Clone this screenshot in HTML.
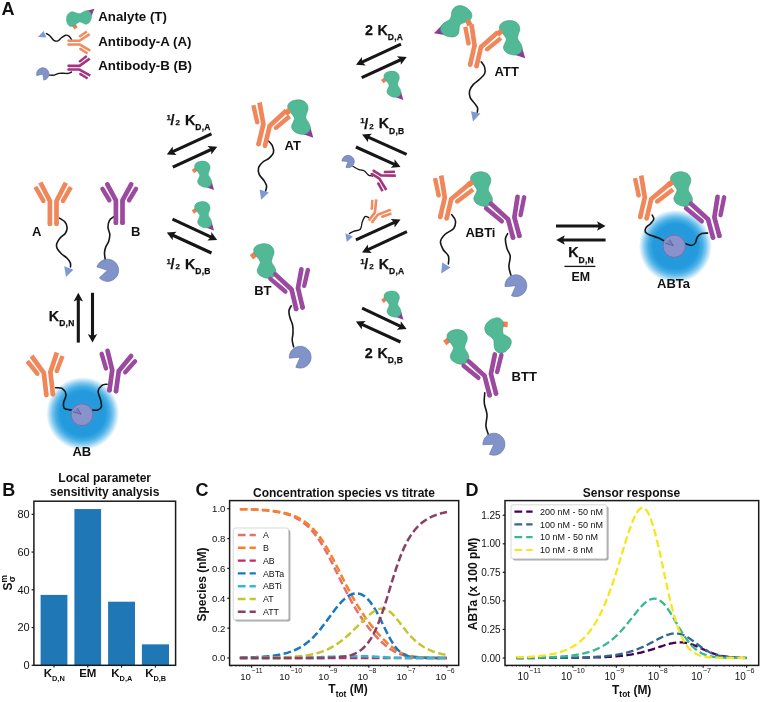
<!DOCTYPE html>
<html><head><meta charset="utf-8"><title>Figure</title>
<style>
html,body{margin:0;padding:0;background:#fff;}
body{width:760px;height:702px;overflow:hidden;font-family:"Liberation Sans",sans-serif;}
svg{display:block;will-change:transform;}
svg text{font-family:"Liberation Sans",sans-serif;fill:#111;}
</style></head><body>
<svg width="760" height="702" viewBox="0 0 760 702">
<defs>
<radialGradient id="glow" cx="50%" cy="50%" r="50%">
<stop offset="0" stop-color="#2c9ede"/>
<stop offset="0.45" stop-color="#2499dc"/>
<stop offset="0.62" stop-color="#249bde"/>
<stop offset="0.74" stop-color="#45ade5"/>
<stop offset="0.84" stop-color="#80c8ee"/>
<stop offset="0.93" stop-color="#c6e7f8"/>
<stop offset="1" stop-color="#ffffff"/>
</radialGradient>
<filter id="sh" x="-10%" y="-10%" width="130%" height="130%"><feGaussianBlur stdDeviation="0.5"/></filter>
</defs>
<rect width="760" height="702" fill="#fff"/>
<g id="chartB">
<rect x="40.6" y="594.91" width="26.80" height="70.39" fill="#2077b6"/>
<rect x="74.4" y="509.06" width="26.70" height="156.24" fill="#2077b6"/>
<rect x="108.1" y="601.71" width="26.90" height="63.59" fill="#2077b6"/>
<rect x="141.9" y="644.35" width="27.10" height="20.95" fill="#2077b6"/>
<rect x="33.9" y="501.2" width="141.70" height="164.10" fill="none" stroke="#1a1a1a" stroke-width="1.5"/>
<line x1="31.599999999999998" x2="33.9" y1="665.30" y2="665.30" stroke="#1a1a1a" stroke-width="1.2"/>
<text x="29.7" y="669.1" font-size="11" text-anchor="end" >0</text>
<line x1="31.599999999999998" x2="33.9" y1="627.56" y2="627.56" stroke="#1a1a1a" stroke-width="1.2"/>
<text x="29.7" y="631.36" font-size="11" text-anchor="end" >20</text>
<line x1="31.599999999999998" x2="33.9" y1="589.82" y2="589.82" stroke="#1a1a1a" stroke-width="1.2"/>
<text x="29.7" y="593.62" font-size="11" text-anchor="end" >40</text>
<line x1="31.599999999999998" x2="33.9" y1="552.08" y2="552.08" stroke="#1a1a1a" stroke-width="1.2"/>
<text x="29.7" y="555.88" font-size="11" text-anchor="end" >60</text>
<line x1="31.599999999999998" x2="33.9" y1="514.34" y2="514.34" stroke="#1a1a1a" stroke-width="1.2"/>
<text x="29.7" y="518.14" font-size="11" text-anchor="end" >80</text>
<line x1="54.00" x2="54.00" y1="665.3" y2="667.5999999999999" stroke="#1a1a1a" stroke-width="1.2"/>
<text x="43.70" y="677.2" font-size="11.5" font-weight="bold">K<tspan font-size="7.4" dy="3.4">D,N</tspan></text>
<line x1="87.75" x2="87.75" y1="665.3" y2="667.5999999999999" stroke="#1a1a1a" stroke-width="1.2"/>
<text x="87.75" y="677.2" font-size="11.5" font-weight="bold" text-anchor="middle" >EM</text>
<line x1="121.55" x2="121.55" y1="665.3" y2="667.5999999999999" stroke="#1a1a1a" stroke-width="1.2"/>
<text x="111.25" y="677.2" font-size="11.5" font-weight="bold">K<tspan font-size="7.4" dy="3.4">D,A</tspan></text>
<line x1="155.45" x2="155.45" y1="665.3" y2="667.5999999999999" stroke="#1a1a1a" stroke-width="1.2"/>
<text x="145.15" y="677.2" font-size="11.5" font-weight="bold">K<tspan font-size="7.4" dy="3.4">D,B</tspan></text>
<text x="104.7" y="482.3" font-size="12" font-weight="bold" text-anchor="middle" >Local parameter</text>
<text x="104.7" y="496.0" font-size="12" font-weight="bold" text-anchor="middle" >sensitivity analysis</text>
<g transform="translate(11.6,590.5) rotate(-90)"><text x="0" y="0" font-size="12" font-weight="bold">S<tspan font-size="8.4" dy="-4.4">m</tspan><tspan font-size="9" dx="-7.2" dy="7.6">σ</tspan></text></g>
<text x="2.2" y="495.9" font-size="18" font-weight="bold" text-anchor="start" >B</text>
</g>
<g id="chartC">
<rect x="229.6" y="500.6" width="229.10" height="164.80" fill="#fff" stroke="none"/>
<path d="M239.84,509.18 L240.64,509.18 L241.44,509.18 L242.24,509.18 L243.04,509.19 L243.84,509.21 L244.63,509.23 L245.43,509.25 L246.23,509.28 L247.03,509.30 L247.83,509.33 L248.63,509.36 L249.43,509.38 L250.23,509.41 L251.03,509.45 L251.83,509.48 L252.63,509.51 L253.43,509.55 L254.23,509.59 L255.03,509.63 L255.83,509.67 L256.63,509.71 L257.43,509.76 L258.23,509.81 L259.03,509.86 L259.83,509.91 L260.63,509.96 L261.43,510.02 L262.23,510.08 L263.03,510.15 L263.83,510.21 L264.63,510.28 L265.43,510.36 L266.23,510.43 L267.03,510.51 L267.83,510.60 L268.63,510.68 L269.43,510.77 L270.23,510.87 L271.03,510.97 L271.83,511.08 L272.63,511.19 L273.43,511.30 L274.23,511.42 L275.03,511.55 L275.83,511.68 L276.63,511.82 L277.43,511.97 L278.23,512.12 L279.03,512.28 L279.83,512.45 L280.63,512.62 L281.43,512.80 L282.23,512.99 L283.03,513.19 L283.83,513.40 L284.63,513.62 L285.43,513.85 L286.23,514.09 L287.03,514.34 L287.83,514.60 L288.63,514.87 L289.43,515.15 L290.23,515.45 L291.03,515.76 L291.83,516.09 L292.63,516.43 L293.43,516.78 L294.23,517.15 L295.03,517.54 L295.83,517.94 L296.63,518.36 L297.43,518.80 L298.23,519.25 L299.03,519.73 L299.83,520.22 L300.63,520.74 L301.43,521.28 L302.22,521.84 L303.02,522.42 L303.82,523.03 L304.62,523.66 L305.42,524.32 L306.22,525.00 L307.02,525.70 L307.82,526.44 L308.62,527.20 L309.42,527.99 L310.22,528.81 L311.02,529.66 L311.82,530.54 L312.62,531.45 L313.42,532.39 L314.22,533.36 L315.02,534.36 L315.82,535.40 L316.62,536.47 L317.42,537.56 L318.22,538.70 L319.02,539.86 L319.82,541.06 L320.62,542.28 L321.42,543.54 L322.22,544.83 L323.02,546.15 L323.82,547.50 L324.62,548.88 L325.42,550.29 L326.22,551.72 L327.02,553.18 L327.82,554.67 L328.62,556.17 L329.42,557.70 L330.22,559.25 L331.02,560.81 L331.82,562.39 L332.62,563.99 L333.42,565.60 L334.22,567.22 L335.02,568.85 L335.82,570.48 L336.62,572.12 L337.42,573.77 L338.22,575.41 L339.02,577.05 L339.82,578.70 L340.62,580.33 L341.42,581.96 L342.22,583.59 L343.02,585.20 L343.82,586.80 L344.62,588.40 L345.42,589.98 L346.22,591.54 L347.02,593.09 L347.82,594.63 L348.62,596.14 L349.42,597.64 L350.22,599.13 L351.02,600.59 L351.82,602.03 L352.62,603.46 L353.42,604.86 L354.22,606.25 L355.02,607.61 L355.82,608.95 L356.62,610.27 L357.42,611.57 L358.22,612.86 L359.02,614.12 L359.82,615.35 L360.61,616.57 L361.41,617.77 L362.21,618.95 L363.01,620.11 L363.81,621.25 L364.61,622.37 L365.41,623.47 L366.21,624.55 L367.01,625.61 L367.81,626.65 L368.61,627.68 L369.41,628.69 L370.21,629.68 L371.01,630.65 L371.81,631.60 L372.61,632.54 L373.41,633.46 L374.21,634.37 L375.01,635.26 L375.81,636.13 L376.61,636.98 L377.41,637.82 L378.21,638.64 L379.01,639.45 L379.81,640.24 L380.61,641.01 L381.41,641.77 L382.21,642.51 L383.01,643.23 L383.81,643.94 L384.61,644.63 L385.41,645.30 L386.21,645.95 L387.01,646.58 L387.81,647.20 L388.61,647.80 L389.41,648.37 L390.21,648.93 L391.01,649.47 L391.81,649.98 L392.61,650.48 L393.41,650.96 L394.21,651.41 L395.01,651.85 L395.81,652.26 L396.61,652.65 L397.41,653.02 L398.21,653.38 L399.01,653.71 L399.81,654.02 L400.61,654.32 L401.41,654.59 L402.21,654.85 L403.01,655.09 L403.81,655.32 L404.61,655.53 L405.41,655.72 L406.21,655.90 L407.01,656.07 L407.81,656.23 L408.61,656.37 L409.41,656.51 L410.21,656.63 L411.01,656.74 L411.81,656.85 L412.61,656.95 L413.41,657.03 L414.21,657.12 L415.01,657.19 L415.81,657.26 L416.61,657.32 L417.41,657.38 L418.20,657.43 L419.00,657.48 L419.80,657.53 L420.60,657.57 L421.40,657.61 L422.20,657.64 L423.00,657.67 L423.80,657.70 L424.60,657.73 L425.40,657.75 L426.20,657.77 L427.00,657.79 L427.80,657.81 L428.60,657.83 L429.40,657.84 L430.20,657.86 L431.00,657.87 L431.80,657.88 L432.60,657.89 L433.40,657.90 L434.20,657.91 L435.00,657.92 L435.80,657.92 L436.60,657.93 L437.40,657.94 L438.20,657.94 L439.00,657.95 L439.80,657.95 L440.60,657.96 L441.40,657.96 L442.20,657.96 L443.00,657.97 L443.80,657.97 L444.60,657.97 L445.40,657.98 L446.20,657.98 L447.00,657.98" fill="none" stroke="#e6706c" stroke-width="2.5" stroke-dasharray="7.6 3.4"/>
<path d="M239.84,509.17 L240.64,509.17 L241.44,509.17 L242.24,509.17 L243.04,509.17 L243.84,509.17 L244.63,509.17 L245.43,509.18 L246.23,509.20 L247.03,509.22 L247.83,509.24 L248.63,509.27 L249.43,509.29 L250.23,509.32 L251.03,509.34 L251.83,509.37 L252.63,509.40 L253.43,509.43 L254.23,509.46 L255.03,509.50 L255.83,509.53 L256.63,509.57 L257.43,509.61 L258.23,509.65 L259.03,509.69 L259.83,509.74 L260.63,509.79 L261.43,509.83 L262.23,509.89 L263.03,509.94 L263.83,510.00 L264.63,510.06 L265.43,510.12 L266.23,510.18 L267.03,510.25 L267.83,510.32 L268.63,510.40 L269.43,510.48 L270.23,510.56 L271.03,510.64 L271.83,510.73 L272.63,510.83 L273.43,510.93 L274.23,511.03 L275.03,511.14 L275.83,511.25 L276.63,511.37 L277.43,511.49 L278.23,511.62 L279.03,511.76 L279.83,511.90 L280.63,512.05 L281.43,512.21 L282.23,512.37 L283.03,512.54 L283.83,512.72 L284.63,512.91 L285.43,513.10 L286.23,513.31 L287.03,513.52 L287.83,513.74 L288.63,513.98 L289.43,514.22 L290.23,514.48 L291.03,514.75 L291.83,515.02 L292.63,515.32 L293.43,515.62 L294.23,515.94 L295.03,516.27 L295.83,516.62 L296.63,516.98 L297.43,517.36 L298.23,517.75 L299.03,518.16 L299.83,518.59 L300.63,519.04 L301.43,519.50 L302.22,519.99 L303.02,520.50 L303.82,521.02 L304.62,521.57 L305.42,522.14 L306.22,522.74 L307.02,523.35 L307.82,524.00 L308.62,524.66 L309.42,525.35 L310.22,526.07 L311.02,526.82 L311.82,527.59 L312.62,528.40 L313.42,529.23 L314.22,530.09 L315.02,530.98 L315.82,531.90 L316.62,532.85 L317.42,533.83 L318.22,534.84 L319.02,535.89 L319.82,536.96 L320.62,538.07 L321.42,539.21 L322.22,540.38 L323.02,541.58 L323.82,542.81 L324.62,544.07 L325.42,545.37 L326.22,546.69 L327.02,548.03 L327.82,549.41 L328.62,550.81 L329.42,552.24 L330.22,553.69 L331.02,555.16 L331.82,556.65 L332.62,558.16 L333.42,559.69 L334.22,561.23 L335.02,562.79 L335.82,564.36 L336.62,565.94 L337.42,567.53 L338.22,569.13 L339.02,570.73 L339.82,572.33 L340.62,573.93 L341.42,575.53 L342.22,577.13 L343.02,578.73 L343.82,580.32 L344.62,581.90 L345.42,583.47 L346.22,585.03 L347.02,586.58 L347.82,588.12 L348.62,589.64 L349.42,591.15 L350.22,592.64 L351.02,594.12 L351.82,595.58 L352.62,597.02 L353.42,598.44 L354.22,599.85 L355.02,601.24 L355.82,602.60 L356.62,603.95 L357.42,605.28 L358.22,606.59 L359.02,607.88 L359.82,609.16 L360.61,610.41 L361.41,611.64 L362.21,612.86 L363.01,614.06 L363.81,615.24 L364.61,616.40 L365.41,617.54 L366.21,618.67 L367.01,619.78 L367.81,620.87 L368.61,621.95 L369.41,623.01 L370.21,624.06 L371.01,625.09 L371.81,626.10 L372.61,627.10 L373.41,628.09 L374.21,629.06 L375.01,630.02 L375.81,630.96 L376.61,631.89 L377.41,632.81 L378.21,633.71 L379.01,634.60 L379.81,635.48 L380.61,636.34 L381.41,637.19 L382.21,638.03 L383.01,638.85 L383.81,639.66 L384.61,640.45 L385.41,641.23 L386.21,641.99 L387.01,642.74 L387.81,643.47 L388.61,644.18 L389.41,644.88 L390.21,645.56 L391.01,646.22 L391.81,646.86 L392.61,647.48 L393.41,648.09 L394.21,648.67 L395.01,649.23 L395.81,649.77 L396.61,650.28 L397.41,650.78 L398.21,651.25 L399.01,651.70 L399.81,652.13 L400.61,652.53 L401.41,652.92 L402.21,653.28 L403.01,653.62 L403.81,653.95 L404.61,654.25 L405.41,654.53 L406.21,654.80 L407.01,655.04 L407.81,655.27 L408.61,655.49 L409.41,655.69 L410.21,655.87 L411.01,656.04 L411.81,656.20 L412.61,656.35 L413.41,656.49 L414.21,656.61 L415.01,656.73 L415.81,656.83 L416.61,656.93 L417.41,657.02 L418.20,657.10 L419.00,657.18 L419.80,657.25 L420.60,657.31 L421.40,657.37 L422.20,657.43 L423.00,657.48 L423.80,657.52 L424.60,657.56 L425.40,657.60 L426.20,657.63 L427.00,657.67 L427.80,657.70 L428.60,657.72 L429.40,657.75 L430.20,657.77 L431.00,657.79 L431.80,657.81 L432.60,657.82 L433.40,657.84 L434.20,657.85 L435.00,657.87 L435.80,657.88 L436.60,657.89 L437.40,657.90 L438.20,657.91 L439.00,657.92 L439.80,657.92 L440.60,657.93 L441.40,657.94 L442.20,657.94 L443.00,657.95 L443.80,657.95 L444.60,657.96 L445.40,657.96 L446.20,657.96 L447.00,657.97" fill="none" stroke="#f5812b" stroke-width="2.5" stroke-dasharray="7.6 3.4"/>
<path d="M239.84,657.94 L240.64,657.94 L241.44,657.94 L242.24,657.94 L243.04,657.94 L243.84,657.94 L244.63,657.94 L245.43,657.94 L246.23,657.94 L247.03,657.94 L247.83,657.94 L248.63,657.94 L249.43,657.94 L250.23,657.94 L251.03,657.94 L251.83,657.94 L252.63,657.94 L253.43,657.94 L254.23,657.94 L255.03,657.94 L255.83,657.94 L256.63,657.94 L257.43,657.94 L258.23,657.94 L259.03,657.94 L259.83,657.94 L260.63,657.94 L261.43,657.94 L262.23,657.94 L263.03,657.94 L263.83,657.94 L264.63,657.94 L265.43,657.94 L266.23,657.94 L267.03,657.94 L267.83,657.94 L268.63,657.94 L269.43,657.94 L270.23,657.94 L271.03,657.94 L271.83,657.94 L272.63,657.94 L273.43,657.94 L274.23,657.94 L275.03,657.94 L275.83,657.94 L276.63,657.94 L277.43,657.94 L278.23,657.94 L279.03,657.94 L279.83,657.94 L280.63,657.94 L281.43,657.94 L282.23,657.94 L283.03,657.94 L283.83,657.94 L284.63,657.94 L285.43,657.94 L286.23,657.95 L287.03,657.95 L287.83,657.95 L288.63,657.95 L289.43,657.95 L290.23,657.95 L291.03,657.95 L291.83,657.95 L292.63,657.95 L293.43,657.95 L294.23,657.95 L295.03,657.95 L295.83,657.95 L296.63,657.95 L297.43,657.95 L298.23,657.95 L299.03,657.95 L299.83,657.95 L300.63,657.95 L301.43,657.95 L302.22,657.95 L303.02,657.95 L303.82,657.95 L304.62,657.95 L305.42,657.95 L306.22,657.95 L307.02,657.95 L307.82,657.96 L308.62,657.96 L309.42,657.96 L310.22,657.96 L311.02,657.96 L311.82,657.96 L312.62,657.96 L313.42,657.96 L314.22,657.96 L315.02,657.96 L315.82,657.96 L316.62,657.96 L317.42,657.96 L318.22,657.96 L319.02,657.97 L319.82,657.97 L320.62,657.97 L321.42,657.97 L322.22,657.97 L323.02,657.97 L323.82,657.97 L324.62,657.97 L325.42,657.97 L326.22,657.97 L327.02,657.97 L327.82,657.97 L328.62,657.97 L329.42,657.98 L330.22,657.98 L331.02,657.98 L331.82,657.98 L332.62,657.98 L333.42,657.98 L334.22,657.98 L335.02,657.98 L335.82,657.98 L336.62,657.98 L337.42,657.98 L338.22,657.98 L339.02,657.98 L339.82,657.99 L340.62,657.99 L341.42,657.99 L342.22,657.99 L343.02,657.99 L343.82,657.99 L344.62,657.99 L345.42,657.99 L346.22,657.99 L347.02,657.99 L347.82,657.99 L348.62,657.99 L349.42,657.99 L350.22,657.99 L351.02,657.99 L351.82,657.99 L352.62,657.99 L353.42,657.99 L354.22,657.99 L355.02,657.99 L355.82,657.99 L356.62,657.99 L357.42,657.99 L358.22,658.00 L359.02,658.00 L359.82,658.00 L360.61,658.00 L361.41,658.00 L362.21,658.00 L363.01,658.00 L363.81,658.00 L364.61,658.00 L365.41,658.00 L366.21,658.00 L367.01,658.00 L367.81,658.00 L368.61,658.00 L369.41,658.00 L370.21,658.00 L371.01,658.00 L371.81,658.00 L372.61,658.00 L373.41,658.00 L374.21,658.00 L375.01,658.00 L375.81,658.00 L376.61,658.00 L377.41,658.00 L378.21,658.00 L379.01,658.00 L379.81,658.00 L380.61,658.00 L381.41,658.00 L382.21,658.00 L383.01,658.00 L383.81,658.00 L384.61,658.00 L385.41,658.00 L386.21,658.00 L387.01,658.00 L387.81,658.00 L388.61,658.00 L389.41,658.00 L390.21,658.00 L391.01,658.00 L391.81,658.00 L392.61,658.00 L393.41,658.00 L394.21,658.00 L395.01,658.00 L395.81,658.00 L396.61,658.00 L397.41,658.00 L398.21,658.00 L399.01,658.00 L399.81,658.00 L400.61,658.00 L401.41,658.00 L402.21,658.00 L403.01,658.00 L403.81,658.00 L404.61,658.00 L405.41,658.00 L406.21,658.00 L407.01,658.00 L407.81,658.00 L408.61,658.00 L409.41,658.00 L410.21,658.00 L411.01,658.00 L411.81,658.00 L412.61,658.00 L413.41,658.00 L414.21,658.00 L415.01,658.00 L415.81,658.00 L416.61,658.00 L417.41,658.00 L418.20,658.00 L419.00,658.00 L419.80,658.00 L420.60,658.00 L421.40,658.00 L422.20,658.00 L423.00,658.00 L423.80,658.00 L424.60,658.00 L425.40,658.00 L426.20,658.00 L427.00,658.00 L427.80,658.00 L428.60,658.00 L429.40,658.00 L430.20,658.00 L431.00,658.00 L431.80,658.00 L432.60,658.00 L433.40,658.00 L434.20,658.00 L435.00,658.00 L435.80,658.00 L436.60,658.00 L437.40,658.00 L438.20,658.00 L439.00,658.00 L439.80,658.00 L440.60,658.00 L441.40,658.00 L442.20,658.00 L443.00,658.00 L443.80,658.00 L444.60,658.00 L445.40,658.00 L446.20,658.00 L447.00,658.00" fill="none" stroke="#c22a62" stroke-width="2.5" stroke-dasharray="7.6 3.4"/>
<path d="M239.84,657.65 L240.64,657.65 L241.44,657.64 L242.24,657.62 L243.04,657.60 L243.84,657.58 L244.63,657.56 L245.43,657.54 L246.23,657.52 L247.03,657.50 L247.83,657.47 L248.63,657.45 L249.43,657.42 L250.23,657.39 L251.03,657.37 L251.83,657.34 L252.63,657.30 L253.43,657.27 L254.23,657.23 L255.03,657.20 L255.83,657.16 L256.63,657.12 L257.43,657.08 L258.23,657.03 L259.03,656.99 L259.83,656.94 L260.63,656.89 L261.43,656.83 L262.23,656.78 L263.03,656.72 L263.83,656.66 L264.63,656.59 L265.43,656.53 L266.23,656.46 L267.03,656.38 L267.83,656.31 L268.63,656.23 L269.43,656.14 L270.23,656.05 L271.03,655.96 L271.83,655.86 L272.63,655.76 L273.43,655.66 L274.23,655.54 L275.03,655.43 L275.83,655.31 L276.63,655.18 L277.43,655.05 L278.23,654.91 L279.03,654.76 L279.83,654.61 L280.63,654.45 L281.43,654.28 L282.23,654.11 L283.03,653.93 L283.83,653.73 L284.63,653.54 L285.43,653.33 L286.23,653.11 L287.03,652.88 L287.83,652.65 L288.63,652.40 L289.43,652.14 L290.23,651.87 L291.03,651.59 L291.83,651.30 L292.63,650.99 L293.43,650.67 L294.23,650.34 L295.03,649.99 L295.83,649.63 L296.63,649.25 L297.43,648.86 L298.23,648.45 L299.03,648.03 L299.83,647.58 L300.63,647.12 L301.43,646.65 L302.22,646.15 L303.02,645.64 L303.82,645.10 L304.62,644.55 L305.42,643.97 L306.22,643.38 L307.02,642.76 L307.82,642.12 L308.62,641.46 L309.42,640.78 L310.22,640.07 L311.02,639.34 L311.82,638.59 L312.62,637.82 L313.42,637.02 L314.22,636.21 L315.02,635.36 L315.82,634.50 L316.62,633.62 L317.42,632.71 L318.22,631.78 L319.02,630.83 L319.82,629.86 L320.62,628.88 L321.42,627.87 L322.22,626.85 L323.02,625.82 L323.82,624.77 L324.62,623.71 L325.42,622.63 L326.22,621.55 L327.02,620.46 L327.82,619.36 L328.62,618.26 L329.42,617.16 L330.22,616.06 L331.02,614.97 L331.82,613.87 L332.62,612.79 L333.42,611.71 L334.22,610.65 L335.02,609.60 L335.82,608.56 L336.62,607.55 L337.42,606.55 L338.22,605.58 L339.02,604.63 L339.82,603.71 L340.62,602.82 L341.42,601.96 L342.22,601.13 L343.02,600.33 L343.82,599.57 L344.62,598.85 L345.42,598.17 L346.22,597.53 L347.02,596.93 L347.82,596.37 L348.62,595.86 L349.42,595.39 L350.22,594.96 L351.02,594.59 L351.82,594.26 L352.62,593.99 L353.42,593.76 L354.22,593.59 L355.02,593.47 L355.82,593.40 L356.62,593.38 L357.42,593.42 L358.22,593.52 L359.02,593.67 L359.82,593.88 L360.61,594.14 L361.41,594.47 L362.21,594.85 L363.01,595.29 L363.81,595.80 L364.61,596.36 L365.41,596.98 L366.21,597.67 L367.01,598.41 L367.81,599.22 L368.61,600.09 L369.41,601.02 L370.21,602.01 L371.01,603.06 L371.81,604.17 L372.61,605.33 L373.41,606.56 L374.21,607.83 L375.01,609.16 L375.81,610.54 L376.61,611.96 L377.41,613.43 L378.21,614.94 L379.01,616.49 L379.81,618.07 L380.61,619.67 L381.41,621.30 L382.21,622.94 L383.01,624.59 L383.81,626.25 L384.61,627.90 L385.41,629.55 L386.21,631.18 L387.01,632.78 L387.81,634.36 L388.61,635.91 L389.41,637.41 L390.21,638.87 L391.01,640.27 L391.81,641.62 L392.61,642.91 L393.41,644.14 L394.21,645.31 L395.01,646.40 L395.81,647.43 L396.61,648.40 L397.41,649.30 L398.21,650.13 L399.01,650.90 L399.81,651.61 L400.61,652.26 L401.41,652.85 L402.21,653.39 L403.01,653.89 L403.81,654.33 L404.61,654.73 L405.41,655.10 L406.21,655.42 L407.01,655.71 L407.81,655.98 L408.61,656.21 L409.41,656.42 L410.21,656.60 L411.01,656.77 L411.81,656.92 L412.61,657.05 L413.41,657.16 L414.21,657.26 L415.01,657.35 L415.81,657.43 L416.61,657.50 L417.41,657.56 L418.20,657.62 L419.00,657.66 L419.80,657.71 L420.60,657.74 L421.40,657.77 L422.20,657.80 L423.00,657.83 L423.80,657.85 L424.60,657.87 L425.40,657.89 L426.20,657.90 L427.00,657.91 L427.80,657.92 L428.60,657.93 L429.40,657.94 L430.20,657.95 L431.00,657.96 L431.80,657.96 L432.60,657.97 L433.40,657.97 L434.20,657.97 L435.00,657.98 L435.80,657.98 L436.60,657.98 L437.40,657.99 L438.20,657.99 L439.00,657.99 L439.80,657.99 L440.60,657.99 L441.40,657.99 L442.20,657.99 L443.00,657.99 L443.80,658.00 L444.60,658.00 L445.40,658.00 L446.20,658.00 L447.00,658.00" fill="none" stroke="#1878be" stroke-width="2.5" stroke-dasharray="7.6 3.4"/>
<path d="M239.84,657.99 L240.64,657.99 L241.44,657.99 L242.24,657.99 L243.04,657.99 L243.84,657.99 L244.63,657.99 L245.43,657.99 L246.23,657.99 L247.03,657.98 L247.83,657.98 L248.63,657.98 L249.43,657.98 L250.23,657.98 L251.03,657.98 L251.83,657.98 L252.63,657.98 L253.43,657.98 L254.23,657.98 L255.03,657.98 L255.83,657.97 L256.63,657.97 L257.43,657.97 L258.23,657.97 L259.03,657.97 L259.83,657.97 L260.63,657.97 L261.43,657.96 L262.23,657.96 L263.03,657.96 L263.83,657.96 L264.63,657.96 L265.43,657.95 L266.23,657.95 L267.03,657.95 L267.83,657.95 L268.63,657.95 L269.43,657.94 L270.23,657.94 L271.03,657.94 L271.83,657.93 L272.63,657.93 L273.43,657.93 L274.23,657.92 L275.03,657.92 L275.83,657.92 L276.63,657.91 L277.43,657.91 L278.23,657.91 L279.03,657.90 L279.83,657.90 L280.63,657.89 L281.43,657.89 L282.23,657.88 L283.03,657.88 L283.83,657.87 L284.63,657.86 L285.43,657.86 L286.23,657.85 L287.03,657.84 L287.83,657.84 L288.63,657.83 L289.43,657.82 L290.23,657.81 L291.03,657.80 L291.83,657.80 L292.63,657.79 L293.43,657.78 L294.23,657.77 L295.03,657.76 L295.83,657.74 L296.63,657.73 L297.43,657.72 L298.23,657.71 L299.03,657.70 L299.83,657.68 L300.63,657.67 L301.43,657.65 L302.22,657.64 L303.02,657.62 L303.82,657.61 L304.62,657.59 L305.42,657.57 L306.22,657.56 L307.02,657.54 L307.82,657.52 L308.62,657.50 L309.42,657.48 L310.22,657.46 L311.02,657.44 L311.82,657.41 L312.62,657.39 L313.42,657.37 L314.22,657.34 L315.02,657.32 L315.82,657.29 L316.62,657.27 L317.42,657.24 L318.22,657.21 L319.02,657.18 L319.82,657.15 L320.62,657.13 L321.42,657.10 L322.22,657.07 L323.02,657.04 L323.82,657.01 L324.62,656.98 L325.42,656.94 L326.22,656.91 L327.02,656.88 L327.82,656.85 L328.62,656.82 L329.42,656.79 L330.22,656.76 L331.02,656.72 L331.82,656.69 L332.62,656.66 L333.42,656.63 L334.22,656.60 L335.02,656.57 L335.82,656.55 L336.62,656.52 L337.42,656.49 L338.22,656.46 L339.02,656.44 L339.82,656.41 L340.62,656.39 L341.42,656.36 L342.22,656.34 L343.02,656.32 L343.82,656.30 L344.62,656.28 L345.42,656.26 L346.22,656.25 L347.02,656.23 L347.82,656.22 L348.62,656.21 L349.42,656.19 L350.22,656.18 L351.02,656.17 L351.82,656.17 L352.62,656.16 L353.42,656.16 L354.22,656.15 L355.02,656.15 L355.82,656.15 L356.62,656.16 L357.42,656.16 L358.22,656.16 L359.02,656.17 L359.82,656.18 L360.61,656.19 L361.41,656.20 L362.21,656.21 L363.01,656.23 L363.81,656.25 L364.61,656.27 L365.41,656.29 L366.21,656.31 L367.01,656.33 L367.81,656.36 L368.61,656.38 L369.41,656.41 L370.21,656.44 L371.01,656.48 L371.81,656.51 L372.61,656.55 L373.41,656.58 L374.21,656.62 L375.01,656.66 L375.81,656.70 L376.61,656.75 L377.41,656.79 L378.21,656.83 L379.01,656.88 L379.81,656.93 L380.61,656.97 L381.41,657.02 L382.21,657.07 L383.01,657.11 L383.81,657.16 L384.61,657.21 L385.41,657.26 L386.21,657.30 L387.01,657.35 L387.81,657.39 L388.61,657.43 L389.41,657.47 L390.21,657.51 L391.01,657.55 L391.81,657.59 L392.61,657.62 L393.41,657.65 L394.21,657.68 L395.01,657.71 L395.81,657.74 L396.61,657.76 L397.41,657.79 L398.21,657.81 L399.01,657.83 L399.81,657.84 L400.61,657.86 L401.41,657.88 L402.21,657.89 L403.01,657.90 L403.81,657.91 L404.61,657.92 L405.41,657.93 L406.21,657.94 L407.01,657.95 L407.81,657.95 L408.61,657.96 L409.41,657.96 L410.21,657.97 L411.01,657.97 L411.81,657.97 L412.61,657.98 L413.41,657.98 L414.21,657.98 L415.01,657.98 L415.81,657.99 L416.61,657.99 L417.41,657.99 L418.20,657.99 L419.00,657.99 L419.80,657.99 L420.60,657.99 L421.40,657.99 L422.20,658.00 L423.00,658.00 L423.80,658.00 L424.60,658.00 L425.40,658.00 L426.20,658.00 L427.00,658.00 L427.80,658.00 L428.60,658.00 L429.40,658.00 L430.20,658.00 L431.00,658.00 L431.80,658.00 L432.60,658.00 L433.40,658.00 L434.20,658.00 L435.00,658.00 L435.80,658.00 L436.60,658.00 L437.40,658.00 L438.20,658.00 L439.00,658.00 L439.80,658.00 L440.60,658.00 L441.40,658.00 L442.20,658.00 L443.00,658.00 L443.80,658.00 L444.60,658.00 L445.40,658.00 L446.20,658.00 L447.00,658.00" fill="none" stroke="#2dbbd6" stroke-width="2.5" stroke-dasharray="7.6 3.4"/>
<path d="M239.84,657.95 L240.64,657.95 L241.44,657.94 L242.24,657.94 L243.04,657.94 L243.84,657.94 L244.63,657.93 L245.43,657.93 L246.23,657.93 L247.03,657.92 L247.83,657.92 L248.63,657.91 L249.43,657.91 L250.23,657.91 L251.03,657.90 L251.83,657.90 L252.63,657.89 L253.43,657.89 L254.23,657.88 L255.03,657.88 L255.83,657.87 L256.63,657.86 L257.43,657.86 L258.23,657.85 L259.03,657.84 L259.83,657.84 L260.63,657.83 L261.43,657.82 L262.23,657.81 L263.03,657.80 L263.83,657.79 L264.63,657.78 L265.43,657.77 L266.23,657.76 L267.03,657.75 L267.83,657.74 L268.63,657.72 L269.43,657.71 L270.23,657.70 L271.03,657.68 L271.83,657.67 L272.63,657.65 L273.43,657.63 L274.23,657.62 L275.03,657.60 L275.83,657.58 L276.63,657.56 L277.43,657.54 L278.23,657.51 L279.03,657.49 L279.83,657.46 L280.63,657.44 L281.43,657.41 L282.23,657.38 L283.03,657.35 L283.83,657.32 L284.63,657.29 L285.43,657.25 L286.23,657.22 L287.03,657.18 L287.83,657.14 L288.63,657.10 L289.43,657.06 L290.23,657.01 L291.03,656.96 L291.83,656.91 L292.63,656.86 L293.43,656.80 L294.23,656.75 L295.03,656.69 L295.83,656.62 L296.63,656.56 L297.43,656.49 L298.23,656.41 L299.03,656.34 L299.83,656.26 L300.63,656.17 L301.43,656.08 L302.22,655.99 L303.02,655.89 L303.82,655.79 L304.62,655.69 L305.42,655.57 L306.22,655.46 L307.02,655.33 L307.82,655.21 L308.62,655.07 L309.42,654.93 L310.22,654.78 L311.02,654.63 L311.82,654.47 L312.62,654.30 L313.42,654.12 L314.22,653.94 L315.02,653.75 L315.82,653.55 L316.62,653.34 L317.42,653.12 L318.22,652.89 L319.02,652.65 L319.82,652.40 L320.62,652.14 L321.42,651.86 L322.22,651.58 L323.02,651.29 L323.82,650.98 L324.62,650.66 L325.42,650.33 L326.22,649.99 L327.02,649.63 L327.82,649.26 L328.62,648.88 L329.42,648.48 L330.22,648.07 L331.02,647.64 L331.82,647.20 L332.62,646.75 L333.42,646.28 L334.22,645.80 L335.02,645.30 L335.82,644.79 L336.62,644.26 L337.42,643.72 L338.22,643.16 L339.02,642.60 L339.82,642.01 L340.62,641.42 L341.42,640.80 L342.22,640.18 L343.02,639.54 L343.82,638.89 L344.62,638.23 L345.42,637.56 L346.22,636.87 L347.02,636.17 L347.82,635.46 L348.62,634.74 L349.42,634.01 L350.22,633.27 L351.02,632.52 L351.82,631.76 L352.62,631.00 L353.42,630.23 L354.22,629.45 L355.02,628.66 L355.82,627.87 L356.62,627.08 L357.42,626.28 L358.22,625.49 L359.02,624.69 L359.82,623.89 L360.61,623.09 L361.41,622.29 L362.21,621.50 L363.01,620.71 L363.81,619.93 L364.61,619.16 L365.41,618.39 L366.21,617.64 L367.01,616.90 L367.81,616.18 L368.61,615.48 L369.41,614.79 L370.21,614.13 L371.01,613.49 L371.81,612.88 L372.61,612.30 L373.41,611.75 L374.21,611.24 L375.01,610.76 L375.81,610.32 L376.61,609.93 L377.41,609.58 L378.21,609.29 L379.01,609.04 L379.81,608.85 L380.61,608.71 L381.41,608.63 L382.21,608.62 L383.01,608.67 L383.81,608.78 L384.61,608.95 L385.41,609.20 L386.21,609.51 L387.01,609.88 L387.81,610.32 L388.61,610.83 L389.41,611.39 L390.21,612.02 L391.01,612.70 L391.81,613.44 L392.61,614.23 L393.41,615.06 L394.21,615.93 L395.01,616.85 L395.81,617.79 L396.61,618.77 L397.41,619.76 L398.21,620.78 L399.01,621.81 L399.81,622.85 L400.61,623.89 L401.41,624.94 L402.21,625.98 L403.01,627.01 L403.81,628.04 L404.61,629.06 L405.41,630.06 L406.21,631.05 L407.01,632.01 L407.81,632.96 L408.61,633.89 L409.41,634.80 L410.21,635.68 L411.01,636.54 L411.81,637.37 L412.61,638.18 L413.41,638.97 L414.21,639.73 L415.01,640.47 L415.81,641.18 L416.61,641.87 L417.41,642.53 L418.20,643.17 L419.00,643.79 L419.80,644.39 L420.60,644.96 L421.40,645.51 L422.20,646.04 L423.00,646.55 L423.80,647.05 L424.60,647.52 L425.40,647.97 L426.20,648.40 L427.00,648.82 L427.80,649.22 L428.60,649.60 L429.40,649.97 L430.20,650.32 L431.00,650.66 L431.80,650.99 L432.60,651.30 L433.40,651.59 L434.20,651.88 L435.00,652.15 L435.80,652.41 L436.60,652.66 L437.40,652.90 L438.20,653.13 L439.00,653.34 L439.80,653.55 L440.60,653.75 L441.40,653.94 L442.20,654.13 L443.00,654.30 L443.80,654.47 L444.60,654.63 L445.40,654.78 L446.20,654.92 L447.00,655.06" fill="none" stroke="#c6c431" stroke-width="2.5" stroke-dasharray="7.6 3.4"/>
<path d="M239.84,658.00 L240.64,658.00 L241.44,658.00 L242.24,658.00 L243.04,658.00 L243.84,658.00 L244.63,658.00 L245.43,658.00 L246.23,658.00 L247.03,658.00 L247.83,658.00 L248.63,658.00 L249.43,658.00 L250.23,658.00 L251.03,658.00 L251.83,658.00 L252.63,658.00 L253.43,658.00 L254.23,658.00 L255.03,658.00 L255.83,658.00 L256.63,658.00 L257.43,658.00 L258.23,658.00 L259.03,658.00 L259.83,658.00 L260.63,658.00 L261.43,658.00 L262.23,658.00 L263.03,658.00 L263.83,658.00 L264.63,658.00 L265.43,658.00 L266.23,658.00 L267.03,658.00 L267.83,658.00 L268.63,658.00 L269.43,658.00 L270.23,658.00 L271.03,658.00 L271.83,658.00 L272.63,658.00 L273.43,658.00 L274.23,658.00 L275.03,658.00 L275.83,658.00 L276.63,658.00 L277.43,658.00 L278.23,658.00 L279.03,658.00 L279.83,658.00 L280.63,658.00 L281.43,658.00 L282.23,658.00 L283.03,658.00 L283.83,658.00 L284.63,658.00 L285.43,658.00 L286.23,658.00 L287.03,658.00 L287.83,658.00 L288.63,658.00 L289.43,658.00 L290.23,658.00 L291.03,658.00 L291.83,658.00 L292.63,658.00 L293.43,658.00 L294.23,658.00 L295.03,658.00 L295.83,658.00 L296.63,658.00 L297.43,658.00 L298.23,658.00 L299.03,658.00 L299.83,657.99 L300.63,657.99 L301.43,657.99 L302.22,657.99 L303.02,657.99 L303.82,657.99 L304.62,657.99 L305.42,657.99 L306.22,657.99 L307.02,657.99 L307.82,657.99 L308.62,657.98 L309.42,657.98 L310.22,657.98 L311.02,657.98 L311.82,657.98 L312.62,657.97 L313.42,657.97 L314.22,657.97 L315.02,657.96 L315.82,657.96 L316.62,657.96 L317.42,657.95 L318.22,657.95 L319.02,657.94 L319.82,657.93 L320.62,657.93 L321.42,657.92 L322.22,657.91 L323.02,657.90 L323.82,657.89 L324.62,657.88 L325.42,657.87 L326.22,657.85 L327.02,657.84 L327.82,657.82 L328.62,657.80 L329.42,657.78 L330.22,657.75 L331.02,657.73 L331.82,657.70 L332.62,657.67 L333.42,657.63 L334.22,657.59 L335.02,657.55 L335.82,657.50 L336.62,657.45 L337.42,657.40 L338.22,657.33 L339.02,657.27 L339.82,657.19 L340.62,657.11 L341.42,657.02 L342.22,656.92 L343.02,656.82 L343.82,656.70 L344.62,656.57 L345.42,656.44 L346.22,656.29 L347.02,656.13 L347.82,655.95 L348.62,655.76 L349.42,655.55 L350.22,655.33 L351.02,655.09 L351.82,654.83 L352.62,654.54 L353.42,654.24 L354.22,653.91 L355.02,653.56 L355.82,653.18 L356.62,652.77 L357.42,652.33 L358.22,651.86 L359.02,651.36 L359.82,650.82 L360.61,650.24 L361.41,649.62 L362.21,648.97 L363.01,648.26 L363.81,647.51 L364.61,646.71 L365.41,645.86 L366.21,644.96 L367.01,644.00 L367.81,642.99 L368.61,641.91 L369.41,640.77 L370.21,639.57 L371.01,638.30 L371.81,636.96 L372.61,635.55 L373.41,634.07 L374.21,632.51 L375.01,630.88 L375.81,629.18 L376.61,627.39 L377.41,625.54 L378.21,623.60 L379.01,621.60 L379.81,619.52 L380.61,617.36 L381.41,615.14 L382.21,612.85 L383.01,610.50 L383.81,608.10 L384.61,605.64 L385.41,603.13 L386.21,600.58 L387.01,598.00 L387.81,595.39 L388.61,592.76 L389.41,590.12 L390.21,587.47 L391.01,584.83 L391.81,582.20 L392.61,579.59 L393.41,577.01 L394.21,574.46 L395.01,571.96 L395.81,569.50 L396.61,567.09 L397.41,564.74 L398.21,562.46 L399.01,560.23 L399.81,558.08 L400.61,555.99 L401.41,553.97 L402.21,552.03 L403.01,550.15 L403.81,548.35 L404.61,546.62 L405.41,544.95 L406.21,543.35 L407.01,541.82 L407.81,540.36 L408.61,538.95 L409.41,537.61 L410.21,536.32 L411.01,535.09 L411.81,533.91 L412.61,532.79 L413.41,531.71 L414.21,530.68 L415.01,529.70 L415.81,528.76 L416.61,527.86 L417.41,527.01 L418.20,526.19 L419.00,525.40 L419.80,524.65 L420.60,523.94 L421.40,523.26 L422.20,522.60 L423.00,521.98 L423.80,521.38 L424.60,520.81 L425.40,520.27 L426.20,519.75 L427.00,519.25 L427.80,518.78 L428.60,518.32 L429.40,517.89 L430.20,517.48 L431.00,517.08 L431.80,516.70 L432.60,516.34 L433.40,516.00 L434.20,515.67 L435.00,515.35 L435.80,515.05 L436.60,514.76 L437.40,514.49 L438.20,514.23 L439.00,513.98 L439.80,513.74 L440.60,513.51 L441.40,513.29 L442.20,513.08 L443.00,512.88 L443.80,512.69 L444.60,512.51 L445.40,512.34 L446.20,512.17 L447.00,512.01" fill="none" stroke="#8b3f66" stroke-width="2.5" stroke-dasharray="7.6 3.4"/>
<rect x="229.6" y="500.6" width="229.10" height="164.80" fill="none" stroke="#1a1a1a" stroke-width="1.5"/>
<line x1="227.29999999999998" x2="229.6" y1="658.00" y2="658.00" stroke="#1a1a1a" stroke-width="1.2"/>
<text x="225.4" y="661.4" font-size="9.6" text-anchor="end" >0.0</text>
<line x1="227.29999999999998" x2="229.6" y1="628.14" y2="628.14" stroke="#1a1a1a" stroke-width="1.2"/>
<text x="225.4" y="631.54" font-size="9.6" text-anchor="end" >0.2</text>
<line x1="227.29999999999998" x2="229.6" y1="598.28" y2="598.28" stroke="#1a1a1a" stroke-width="1.2"/>
<text x="225.4" y="601.68" font-size="9.6" text-anchor="end" >0.4</text>
<line x1="227.29999999999998" x2="229.6" y1="568.42" y2="568.42" stroke="#1a1a1a" stroke-width="1.2"/>
<text x="225.4" y="571.82" font-size="9.6" text-anchor="end" >0.6</text>
<line x1="227.29999999999998" x2="229.6" y1="538.56" y2="538.56" stroke="#1a1a1a" stroke-width="1.2"/>
<text x="225.4" y="541.96" font-size="9.6" text-anchor="end" >0.8</text>
<line x1="227.29999999999998" x2="229.6" y1="508.70" y2="508.70" stroke="#1a1a1a" stroke-width="1.2"/>
<text x="225.4" y="512.1" font-size="9.6" text-anchor="end" >1.0</text>
<line x1="231.17" x2="231.17" y1="665.4" y2="666.6999999999999" stroke="#1a1a1a" stroke-width="0.7"/>
<line x1="236.05" x2="236.05" y1="665.4" y2="666.6999999999999" stroke="#1a1a1a" stroke-width="0.7"/>
<line x1="239.84" x2="239.84" y1="665.4" y2="666.6999999999999" stroke="#1a1a1a" stroke-width="0.7"/>
<line x1="242.93" x2="242.93" y1="665.4" y2="666.6999999999999" stroke="#1a1a1a" stroke-width="0.7"/>
<line x1="245.55" x2="245.55" y1="665.4" y2="666.6999999999999" stroke="#1a1a1a" stroke-width="0.7"/>
<line x1="247.81" x2="247.81" y1="665.4" y2="666.6999999999999" stroke="#1a1a1a" stroke-width="0.7"/>
<line x1="249.81" x2="249.81" y1="665.4" y2="666.6999999999999" stroke="#1a1a1a" stroke-width="0.7"/>
<line x1="251.60" x2="251.60" y1="665.4" y2="667.6999999999999" stroke="#1a1a1a" stroke-width="1.2"/>
<text x="240.18" y="680.3" font-size="9.6">10<tspan font-size="6.91" dy="-6.91" dx="0.5">−11</tspan></text>
<line x1="263.36" x2="263.36" y1="665.4" y2="666.6999999999999" stroke="#1a1a1a" stroke-width="0.7"/>
<line x1="270.25" x2="270.25" y1="665.4" y2="666.6999999999999" stroke="#1a1a1a" stroke-width="0.7"/>
<line x1="275.13" x2="275.13" y1="665.4" y2="666.6999999999999" stroke="#1a1a1a" stroke-width="0.7"/>
<line x1="278.92" x2="278.92" y1="665.4" y2="666.6999999999999" stroke="#1a1a1a" stroke-width="0.7"/>
<line x1="282.01" x2="282.01" y1="665.4" y2="666.6999999999999" stroke="#1a1a1a" stroke-width="0.7"/>
<line x1="284.63" x2="284.63" y1="665.4" y2="666.6999999999999" stroke="#1a1a1a" stroke-width="0.7"/>
<line x1="286.89" x2="286.89" y1="665.4" y2="666.6999999999999" stroke="#1a1a1a" stroke-width="0.7"/>
<line x1="288.89" x2="288.89" y1="665.4" y2="666.6999999999999" stroke="#1a1a1a" stroke-width="0.7"/>
<line x1="290.68" x2="290.68" y1="665.4" y2="667.6999999999999" stroke="#1a1a1a" stroke-width="1.2"/>
<text x="279.26" y="680.3" font-size="9.6">10<tspan font-size="6.91" dy="-6.91" dx="0.5">−10</tspan></text>
<line x1="302.44" x2="302.44" y1="665.4" y2="666.6999999999999" stroke="#1a1a1a" stroke-width="0.7"/>
<line x1="309.33" x2="309.33" y1="665.4" y2="666.6999999999999" stroke="#1a1a1a" stroke-width="0.7"/>
<line x1="314.21" x2="314.21" y1="665.4" y2="666.6999999999999" stroke="#1a1a1a" stroke-width="0.7"/>
<line x1="318.00" x2="318.00" y1="665.4" y2="666.6999999999999" stroke="#1a1a1a" stroke-width="0.7"/>
<line x1="321.09" x2="321.09" y1="665.4" y2="666.6999999999999" stroke="#1a1a1a" stroke-width="0.7"/>
<line x1="323.71" x2="323.71" y1="665.4" y2="666.6999999999999" stroke="#1a1a1a" stroke-width="0.7"/>
<line x1="325.97" x2="325.97" y1="665.4" y2="666.6999999999999" stroke="#1a1a1a" stroke-width="0.7"/>
<line x1="327.97" x2="327.97" y1="665.4" y2="666.6999999999999" stroke="#1a1a1a" stroke-width="0.7"/>
<line x1="329.76" x2="329.76" y1="665.4" y2="667.6999999999999" stroke="#1a1a1a" stroke-width="1.2"/>
<text x="318.34" y="680.3" font-size="9.6">10<tspan font-size="6.91" dy="-6.91" dx="0.5">−9</tspan></text>
<line x1="341.52" x2="341.52" y1="665.4" y2="666.6999999999999" stroke="#1a1a1a" stroke-width="0.7"/>
<line x1="348.41" x2="348.41" y1="665.4" y2="666.6999999999999" stroke="#1a1a1a" stroke-width="0.7"/>
<line x1="353.29" x2="353.29" y1="665.4" y2="666.6999999999999" stroke="#1a1a1a" stroke-width="0.7"/>
<line x1="357.08" x2="357.08" y1="665.4" y2="666.6999999999999" stroke="#1a1a1a" stroke-width="0.7"/>
<line x1="360.17" x2="360.17" y1="665.4" y2="666.6999999999999" stroke="#1a1a1a" stroke-width="0.7"/>
<line x1="362.79" x2="362.79" y1="665.4" y2="666.6999999999999" stroke="#1a1a1a" stroke-width="0.7"/>
<line x1="365.05" x2="365.05" y1="665.4" y2="666.6999999999999" stroke="#1a1a1a" stroke-width="0.7"/>
<line x1="367.05" x2="367.05" y1="665.4" y2="666.6999999999999" stroke="#1a1a1a" stroke-width="0.7"/>
<line x1="368.84" x2="368.84" y1="665.4" y2="667.6999999999999" stroke="#1a1a1a" stroke-width="1.2"/>
<text x="357.42" y="680.3" font-size="9.6">10<tspan font-size="6.91" dy="-6.91" dx="0.5">−8</tspan></text>
<line x1="380.60" x2="380.60" y1="665.4" y2="666.6999999999999" stroke="#1a1a1a" stroke-width="0.7"/>
<line x1="387.49" x2="387.49" y1="665.4" y2="666.6999999999999" stroke="#1a1a1a" stroke-width="0.7"/>
<line x1="392.37" x2="392.37" y1="665.4" y2="666.6999999999999" stroke="#1a1a1a" stroke-width="0.7"/>
<line x1="396.16" x2="396.16" y1="665.4" y2="666.6999999999999" stroke="#1a1a1a" stroke-width="0.7"/>
<line x1="399.25" x2="399.25" y1="665.4" y2="666.6999999999999" stroke="#1a1a1a" stroke-width="0.7"/>
<line x1="401.87" x2="401.87" y1="665.4" y2="666.6999999999999" stroke="#1a1a1a" stroke-width="0.7"/>
<line x1="404.13" x2="404.13" y1="665.4" y2="666.6999999999999" stroke="#1a1a1a" stroke-width="0.7"/>
<line x1="406.13" x2="406.13" y1="665.4" y2="666.6999999999999" stroke="#1a1a1a" stroke-width="0.7"/>
<line x1="407.92" x2="407.92" y1="665.4" y2="667.6999999999999" stroke="#1a1a1a" stroke-width="1.2"/>
<text x="396.50" y="680.3" font-size="9.6">10<tspan font-size="6.91" dy="-6.91" dx="0.5">−7</tspan></text>
<line x1="419.68" x2="419.68" y1="665.4" y2="666.6999999999999" stroke="#1a1a1a" stroke-width="0.7"/>
<line x1="426.57" x2="426.57" y1="665.4" y2="666.6999999999999" stroke="#1a1a1a" stroke-width="0.7"/>
<line x1="431.45" x2="431.45" y1="665.4" y2="666.6999999999999" stroke="#1a1a1a" stroke-width="0.7"/>
<line x1="435.24" x2="435.24" y1="665.4" y2="666.6999999999999" stroke="#1a1a1a" stroke-width="0.7"/>
<line x1="438.33" x2="438.33" y1="665.4" y2="666.6999999999999" stroke="#1a1a1a" stroke-width="0.7"/>
<line x1="440.95" x2="440.95" y1="665.4" y2="666.6999999999999" stroke="#1a1a1a" stroke-width="0.7"/>
<line x1="443.21" x2="443.21" y1="665.4" y2="666.6999999999999" stroke="#1a1a1a" stroke-width="0.7"/>
<line x1="445.21" x2="445.21" y1="665.4" y2="666.6999999999999" stroke="#1a1a1a" stroke-width="0.7"/>
<line x1="447.00" x2="447.00" y1="665.4" y2="667.6999999999999" stroke="#1a1a1a" stroke-width="1.2"/>
<text x="435.58" y="680.3" font-size="9.6">10<tspan font-size="6.91" dy="-6.91" dx="0.5">−6</tspan></text>
<rect x="235.0" y="529.8" width="55.400000000000034" height="91.8" rx="2" fill="#8c8c8c" opacity="0.75"/>
<rect x="233.2" y="528.0" width="55.400000000000034" height="91.8" rx="2" fill="#fff" stroke="#cfcfcf" stroke-width="0.8"/>
<line x1="237.8" x2="255.8" y1="535.0" y2="535.0" stroke="#e6706c" stroke-width="2.4" stroke-dasharray="7.8 4"/>
<text x="263.0" y="538.2" font-size="8.8" text-anchor="start" >A</text>
<line x1="237.8" x2="255.8" y1="547.8" y2="547.8" stroke="#f5812b" stroke-width="2.4" stroke-dasharray="7.8 4"/>
<text x="263.0" y="551.0" font-size="8.8" text-anchor="start" >B</text>
<line x1="237.8" x2="255.8" y1="560.6" y2="560.6" stroke="#c22a62" stroke-width="2.4" stroke-dasharray="7.8 4"/>
<text x="263.0" y="563.8" font-size="8.8" text-anchor="start" >AB</text>
<line x1="237.8" x2="255.8" y1="573.4" y2="573.4" stroke="#1878be" stroke-width="2.4" stroke-dasharray="7.8 4"/>
<text x="263.0" y="576.6" font-size="8.8" text-anchor="start" >ABTa</text>
<line x1="237.8" x2="255.8" y1="586.2" y2="586.2" stroke="#2dbbd6" stroke-width="2.4" stroke-dasharray="7.8 4"/>
<text x="263.0" y="589.4" font-size="8.8" text-anchor="start" >ABTi</text>
<line x1="237.8" x2="255.8" y1="599.0" y2="599.0" stroke="#c6c431" stroke-width="2.4" stroke-dasharray="7.8 4"/>
<text x="263.0" y="602.2" font-size="8.8" text-anchor="start" >AT</text>
<line x1="237.8" x2="255.8" y1="611.8" y2="611.8" stroke="#8b3f66" stroke-width="2.4" stroke-dasharray="7.8 4"/>
<text x="263.0" y="615.0" font-size="8.8" text-anchor="start" >ATT</text>
<text x="344.0" y="496.8" font-size="12" font-weight="bold" text-anchor="middle" >Concentration species vs titrate</text>
<g transform="translate(206.2,584.5) rotate(-90)"><text x="0" y="0" font-size="12" font-weight="bold" text-anchor="middle" >Species (nM)</text></g>
<text x="328.3" y="693.0" font-size="12" font-weight="bold">T<tspan font-size="8.4" dy="3.6">tot</tspan><tspan dy="-3.6"> (M)</tspan></text>
<text x="195.6" y="495.6" font-size="18" font-weight="bold" text-anchor="start" >C</text>
</g>
<g id="chartD">
<path d="M516.43,657.99 L517.32,657.99 L518.21,657.99 L519.10,657.99 L519.98,657.99 L520.87,657.99 L521.76,657.99 L522.65,657.99 L523.54,657.99 L524.43,657.99 L525.32,657.99 L526.20,657.99 L527.09,657.98 L527.98,657.98 L528.87,657.98 L529.76,657.98 L530.65,657.98 L531.54,657.98 L532.43,657.98 L533.31,657.98 L534.20,657.98 L535.09,657.98 L535.98,657.98 L536.87,657.97 L537.76,657.97 L538.65,657.97 L539.54,657.97 L540.42,657.97 L541.31,657.97 L542.20,657.97 L543.09,657.96 L543.98,657.96 L544.87,657.96 L545.76,657.96 L546.64,657.96 L547.53,657.95 L548.42,657.95 L549.31,657.95 L550.20,657.95 L551.09,657.94 L551.98,657.94 L552.87,657.94 L553.75,657.94 L554.64,657.93 L555.53,657.93 L556.42,657.93 L557.31,657.92 L558.20,657.92 L559.09,657.92 L559.98,657.91 L560.86,657.91 L561.75,657.90 L562.64,657.90 L563.53,657.89 L564.42,657.89 L565.31,657.88 L566.20,657.88 L567.08,657.87 L567.97,657.86 L568.86,657.86 L569.75,657.85 L570.64,657.84 L571.53,657.84 L572.42,657.83 L573.31,657.82 L574.19,657.81 L575.08,657.80 L575.97,657.79 L576.86,657.78 L577.75,657.77 L578.64,657.76 L579.53,657.75 L580.41,657.74 L581.30,657.73 L582.19,657.71 L583.08,657.70 L583.97,657.69 L584.86,657.67 L585.75,657.65 L586.64,657.64 L587.52,657.62 L588.41,657.60 L589.30,657.58 L590.19,657.56 L591.08,657.54 L591.97,657.52 L592.86,657.50 L593.75,657.48 L594.63,657.45 L595.52,657.42 L596.41,657.40 L597.30,657.37 L598.19,657.34 L599.08,657.31 L599.97,657.27 L600.85,657.24 L601.74,657.20 L602.63,657.17 L603.52,657.13 L604.41,657.09 L605.30,657.04 L606.19,657.00 L607.08,656.95 L607.96,656.90 L608.85,656.85 L609.74,656.80 L610.63,656.74 L611.52,656.68 L612.41,656.62 L613.30,656.56 L614.19,656.49 L615.07,656.42 L615.96,656.35 L616.85,656.28 L617.74,656.20 L618.63,656.12 L619.52,656.03 L620.41,655.94 L621.29,655.85 L622.18,655.75 L623.07,655.65 L623.96,655.54 L624.85,655.43 L625.74,655.32 L626.63,655.20 L627.52,655.08 L628.40,654.95 L629.29,654.82 L630.18,654.68 L631.07,654.54 L631.96,654.39 L632.85,654.23 L633.74,654.07 L634.63,653.91 L635.51,653.74 L636.40,653.56 L637.29,653.38 L638.18,653.19 L639.07,652.99 L639.96,652.79 L640.85,652.58 L641.73,652.37 L642.62,652.14 L643.51,651.92 L644.40,651.68 L645.29,651.45 L646.18,651.20 L647.07,650.95 L647.96,650.69 L648.84,650.43 L649.73,650.16 L650.62,649.89 L651.51,649.61 L652.40,649.33 L653.29,649.04 L654.18,648.75 L655.06,648.46 L655.95,648.16 L656.84,647.86 L657.73,647.56 L658.62,647.26 L659.51,646.96 L660.40,646.66 L661.29,646.37 L662.17,646.07 L663.06,645.78 L663.95,645.49 L664.84,645.21 L665.73,644.94 L666.62,644.67 L667.51,644.41 L668.40,644.16 L669.28,643.92 L670.17,643.70 L671.06,643.49 L671.95,643.29 L672.84,643.11 L673.73,642.94 L674.62,642.80 L675.50,642.67 L676.39,642.56 L677.28,642.48 L678.17,642.41 L679.06,642.37 L679.95,642.35 L680.84,642.36 L681.73,642.39 L682.61,642.45 L683.50,642.52 L684.39,642.63 L685.28,642.76 L686.17,642.91 L687.06,643.09 L687.95,643.29 L688.84,643.52 L689.72,643.76 L690.61,644.03 L691.50,644.32 L692.39,644.62 L693.28,644.95 L694.17,645.29 L695.06,645.64 L695.94,646.01 L696.83,646.39 L697.72,646.78 L698.61,647.18 L699.50,647.58 L700.39,647.99 L701.28,648.40 L702.17,648.81 L703.05,649.22 L703.94,649.63 L704.83,650.04 L705.72,650.44 L706.61,650.84 L707.50,651.22 L708.39,651.60 L709.28,651.97 L710.16,652.33 L711.05,652.68 L711.94,653.02 L712.83,653.34 L713.72,653.66 L714.61,653.95 L715.50,654.24 L716.38,654.51 L717.27,654.77 L718.16,655.01 L719.05,655.24 L719.94,655.46 L720.83,655.66 L721.72,655.85 L722.61,656.03 L723.49,656.20 L724.38,656.35 L725.27,656.50 L726.16,656.63 L727.05,656.76 L727.94,656.87 L728.83,656.98 L729.71,657.07 L730.60,657.16 L731.49,657.24 L732.38,657.32 L733.27,657.39 L734.16,657.45 L735.05,657.50 L735.94,657.55 L736.82,657.60 L737.71,657.64 L738.60,657.68 L739.49,657.72 L740.38,657.75 L741.27,657.77 L742.16,657.80 L743.05,657.82 L743.93,657.84 L744.82,657.86 L745.71,657.87 L746.60,657.89" fill="none" stroke="#440154" stroke-width="2.3" stroke-dasharray="7.6 3.4"/>
<path d="M516.43,657.98 L517.32,657.98 L518.21,657.98 L519.10,657.98 L519.98,657.98 L520.87,657.98 L521.76,657.98 L522.65,657.98 L523.54,657.97 L524.43,657.97 L525.32,657.97 L526.20,657.97 L527.09,657.97 L527.98,657.97 L528.87,657.97 L529.76,657.97 L530.65,657.96 L531.54,657.96 L532.43,657.96 L533.31,657.96 L534.20,657.96 L535.09,657.95 L535.98,657.95 L536.87,657.95 L537.76,657.95 L538.65,657.94 L539.54,657.94 L540.42,657.94 L541.31,657.94 L542.20,657.93 L543.09,657.93 L543.98,657.93 L544.87,657.92 L545.76,657.92 L546.64,657.91 L547.53,657.91 L548.42,657.91 L549.31,657.90 L550.20,657.90 L551.09,657.89 L551.98,657.89 L552.87,657.88 L553.75,657.88 L554.64,657.87 L555.53,657.86 L556.42,657.86 L557.31,657.85 L558.20,657.84 L559.09,657.84 L559.98,657.83 L560.86,657.82 L561.75,657.81 L562.64,657.80 L563.53,657.79 L564.42,657.78 L565.31,657.77 L566.20,657.76 L567.08,657.75 L567.97,657.74 L568.86,657.72 L569.75,657.71 L570.64,657.70 L571.53,657.68 L572.42,657.67 L573.31,657.65 L574.19,657.63 L575.08,657.62 L575.97,657.60 L576.86,657.58 L577.75,657.56 L578.64,657.54 L579.53,657.52 L580.41,657.49 L581.30,657.47 L582.19,657.44 L583.08,657.42 L583.97,657.39 L584.86,657.36 L585.75,657.33 L586.64,657.30 L587.52,657.26 L588.41,657.23 L589.30,657.19 L590.19,657.15 L591.08,657.11 L591.97,657.07 L592.86,657.03 L593.75,656.98 L594.63,656.93 L595.52,656.88 L596.41,656.83 L597.30,656.77 L598.19,656.71 L599.08,656.65 L599.97,656.59 L600.85,656.52 L601.74,656.46 L602.63,656.38 L603.52,656.31 L604.41,656.23 L605.30,656.15 L606.19,656.06 L607.08,655.97 L607.96,655.87 L608.85,655.78 L609.74,655.67 L610.63,655.57 L611.52,655.45 L612.41,655.34 L613.30,655.22 L614.19,655.09 L615.07,654.96 L615.96,654.82 L616.85,654.67 L617.74,654.52 L618.63,654.37 L619.52,654.20 L620.41,654.03 L621.29,653.86 L622.18,653.67 L623.07,653.48 L623.96,653.28 L624.85,653.07 L625.74,652.86 L626.63,652.64 L627.52,652.40 L628.40,652.16 L629.29,651.91 L630.18,651.66 L631.07,651.39 L631.96,651.11 L632.85,650.83 L633.74,650.53 L634.63,650.22 L635.51,649.91 L636.40,649.58 L637.29,649.25 L638.18,648.90 L639.07,648.54 L639.96,648.18 L640.85,647.80 L641.73,647.42 L642.62,647.02 L643.51,646.62 L644.40,646.20 L645.29,645.78 L646.18,645.35 L647.07,644.91 L647.96,644.46 L648.84,644.01 L649.73,643.55 L650.62,643.09 L651.51,642.62 L652.40,642.14 L653.29,641.67 L654.18,641.19 L655.06,640.71 L655.95,640.24 L656.84,639.76 L657.73,639.29 L658.62,638.83 L659.51,638.37 L660.40,637.92 L661.29,637.48 L662.17,637.05 L663.06,636.64 L663.95,636.25 L664.84,635.87 L665.73,635.51 L666.62,635.17 L667.51,634.86 L668.40,634.57 L669.28,634.32 L670.17,634.09 L671.06,633.89 L671.95,633.73 L672.84,633.60 L673.73,633.51 L674.62,633.46 L675.50,633.45 L676.39,633.47 L677.28,633.54 L678.17,633.65 L679.06,633.80 L679.95,633.99 L680.84,634.23 L681.73,634.50 L682.61,634.82 L683.50,635.17 L684.39,635.57 L685.28,635.99 L686.17,636.46 L687.06,636.95 L687.95,637.48 L688.84,638.04 L689.72,638.62 L690.61,639.22 L691.50,639.84 L692.39,640.48 L693.28,641.13 L694.17,641.79 L695.06,642.46 L695.94,643.14 L696.83,643.81 L697.72,644.49 L698.61,645.15 L699.50,645.82 L700.39,646.47 L701.28,647.11 L702.17,647.74 L703.05,648.35 L703.94,648.95 L704.83,649.52 L705.72,650.08 L706.61,650.61 L707.50,651.12 L708.39,651.61 L709.28,652.08 L710.16,652.52 L711.05,652.94 L711.94,653.34 L712.83,653.71 L713.72,654.06 L714.61,654.39 L715.50,654.70 L716.38,654.98 L717.27,655.25 L718.16,655.49 L719.05,655.72 L719.94,655.93 L720.83,656.13 L721.72,656.31 L722.61,656.47 L723.49,656.62 L724.38,656.76 L725.27,656.88 L726.16,656.99 L727.05,657.10 L727.94,657.19 L728.83,657.28 L729.71,657.35 L730.60,657.42 L731.49,657.48 L732.38,657.54 L733.27,657.59 L734.16,657.64 L735.05,657.68 L735.94,657.71 L736.82,657.75 L737.71,657.77 L738.60,657.80 L739.49,657.82 L740.38,657.84 L741.27,657.86 L742.16,657.88 L743.05,657.89 L743.93,657.91 L744.82,657.92 L745.71,657.93 L746.60,657.94" fill="none" stroke="#31688e" stroke-width="2.3" stroke-dasharray="7.6 3.4"/>
<path d="M516.43,657.84 L517.32,657.84 L518.21,657.84 L519.10,657.84 L519.98,657.84 L520.87,657.83 L521.76,657.82 L522.65,657.81 L523.54,657.80 L524.43,657.79 L525.32,657.78 L526.20,657.77 L527.09,657.76 L527.98,657.75 L528.87,657.74 L529.76,657.73 L530.65,657.71 L531.54,657.70 L532.43,657.69 L533.31,657.67 L534.20,657.65 L535.09,657.64 L535.98,657.62 L536.87,657.60 L537.76,657.58 L538.65,657.56 L539.54,657.54 L540.42,657.52 L541.31,657.50 L542.20,657.47 L543.09,657.45 L543.98,657.42 L544.87,657.39 L545.76,657.36 L546.64,657.33 L547.53,657.30 L548.42,657.27 L549.31,657.23 L550.20,657.19 L551.09,657.16 L551.98,657.12 L552.87,657.07 L553.75,657.03 L554.64,656.98 L555.53,656.93 L556.42,656.88 L557.31,656.83 L558.20,656.77 L559.09,656.71 L559.98,656.65 L560.86,656.59 L561.75,656.52 L562.64,656.45 L563.53,656.38 L564.42,656.30 L565.31,656.22 L566.20,656.13 L567.08,656.05 L567.97,655.95 L568.86,655.86 L569.75,655.75 L570.64,655.65 L571.53,655.54 L572.42,655.42 L573.31,655.30 L574.19,655.17 L575.08,655.04 L575.97,654.90 L576.86,654.75 L577.75,654.60 L578.64,654.44 L579.53,654.27 L580.41,654.10 L581.30,653.91 L582.19,653.72 L583.08,653.52 L583.97,653.32 L584.86,653.10 L585.75,652.87 L586.64,652.63 L587.52,652.39 L588.41,652.13 L589.30,651.86 L590.19,651.58 L591.08,651.28 L591.97,650.98 L592.86,650.66 L593.75,650.32 L594.63,649.98 L595.52,649.62 L596.41,649.24 L597.30,648.85 L598.19,648.44 L599.08,648.01 L599.97,647.57 L600.85,647.11 L601.74,646.64 L602.63,646.14 L603.52,645.62 L604.41,645.09 L605.30,644.54 L606.19,643.96 L607.08,643.36 L607.96,642.74 L608.85,642.10 L609.74,641.44 L610.63,640.76 L611.52,640.05 L612.41,639.32 L613.30,638.57 L614.19,637.79 L615.07,636.99 L615.96,636.16 L616.85,635.31 L617.74,634.44 L618.63,633.55 L619.52,632.63 L620.41,631.69 L621.29,630.72 L622.18,629.74 L623.07,628.74 L623.96,627.71 L624.85,626.67 L625.74,625.61 L626.63,624.53 L627.52,623.44 L628.40,622.34 L629.29,621.23 L630.18,620.11 L631.07,618.98 L631.96,617.85 L632.85,616.71 L633.74,615.58 L634.63,614.46 L635.51,613.34 L636.40,612.23 L637.29,611.14 L638.18,610.07 L639.07,609.01 L639.96,607.99 L640.85,607.00 L641.73,606.04 L642.62,605.12 L643.51,604.24 L644.40,603.41 L645.29,602.64 L646.18,601.92 L647.07,601.26 L647.96,600.66 L648.84,600.14 L649.73,599.68 L650.62,599.31 L651.51,599.01 L652.40,598.79 L653.29,598.66 L654.18,598.62 L655.06,598.66 L655.95,598.80 L656.84,599.03 L657.73,599.34 L658.62,599.75 L659.51,600.25 L660.40,600.84 L661.29,601.52 L662.17,602.29 L663.06,603.14 L663.95,604.07 L664.84,605.07 L665.73,606.15 L666.62,607.30 L667.51,608.51 L668.40,609.78 L669.28,611.11 L670.17,612.48 L671.06,613.89 L671.95,615.34 L672.84,616.82 L673.73,618.32 L674.62,619.84 L675.50,621.36 L676.39,622.90 L677.28,624.43 L678.17,625.96 L679.06,627.48 L679.95,628.98 L680.84,630.45 L681.73,631.91 L682.61,633.33 L683.50,634.72 L684.39,636.07 L685.28,637.38 L686.17,638.65 L687.06,639.87 L687.95,641.05 L688.84,642.18 L689.72,643.26 L690.61,644.29 L691.50,645.28 L692.39,646.21 L693.28,647.09 L694.17,647.93 L695.06,648.71 L695.94,649.45 L696.83,650.15 L697.72,650.80 L698.61,651.40 L699.50,651.97 L700.39,652.49 L701.28,652.98 L702.17,653.43 L703.05,653.85 L703.94,654.23 L704.83,654.59 L705.72,654.91 L706.61,655.21 L707.50,655.48 L708.39,655.73 L709.28,655.96 L710.16,656.16 L711.05,656.35 L711.94,656.52 L712.83,656.67 L713.72,656.81 L714.61,656.94 L715.50,657.05 L716.38,657.16 L717.27,657.25 L718.16,657.33 L719.05,657.40 L719.94,657.47 L720.83,657.53 L721.72,657.58 L722.61,657.63 L723.49,657.67 L724.38,657.71 L725.27,657.74 L726.16,657.77 L727.05,657.80 L727.94,657.82 L728.83,657.84 L729.71,657.86 L730.60,657.88 L731.49,657.89 L732.38,657.91 L733.27,657.92 L734.16,657.93 L735.05,657.94 L735.94,657.94 L736.82,657.95 L737.71,657.96 L738.60,657.96 L739.49,657.97 L740.38,657.97 L741.27,657.97 L742.16,657.98 L743.05,657.98 L743.93,657.98 L744.82,657.99 L745.71,657.99 L746.60,657.99" fill="none" stroke="#35b992" stroke-width="2.3" stroke-dasharray="7.6 3.4"/>
<path d="M516.43,657.20 L517.32,657.20 L518.21,657.20 L519.10,657.20 L519.98,657.20 L520.87,657.20 L521.76,657.20 L522.65,657.18 L523.54,657.14 L524.43,657.10 L525.32,657.05 L526.20,657.01 L527.09,656.96 L527.98,656.91 L528.87,656.86 L529.76,656.80 L530.65,656.74 L531.54,656.68 L532.43,656.62 L533.31,656.55 L534.20,656.48 L535.09,656.41 L535.98,656.34 L536.87,656.26 L537.76,656.17 L538.65,656.08 L539.54,655.99 L540.42,655.90 L541.31,655.79 L542.20,655.69 L543.09,655.58 L543.98,655.46 L544.87,655.34 L545.76,655.21 L546.64,655.08 L547.53,654.94 L548.42,654.79 L549.31,654.64 L550.20,654.48 L551.09,654.31 L551.98,654.14 L552.87,653.95 L553.75,653.76 L554.64,653.56 L555.53,653.35 L556.42,653.12 L557.31,652.89 L558.20,652.65 L559.09,652.39 L559.98,652.13 L560.86,651.85 L561.75,651.56 L562.64,651.25 L563.53,650.94 L564.42,650.60 L565.31,650.25 L566.20,649.89 L567.08,649.51 L567.97,649.11 L568.86,648.69 L569.75,648.25 L570.64,647.80 L571.53,647.32 L572.42,646.82 L573.31,646.30 L574.19,645.75 L575.08,645.18 L575.97,644.59 L576.86,643.97 L577.75,643.32 L578.64,642.64 L579.53,641.94 L580.41,641.20 L581.30,640.43 L582.19,639.63 L583.08,638.79 L583.97,637.92 L584.86,637.01 L585.75,636.06 L586.64,635.08 L587.52,634.05 L588.41,632.98 L589.30,631.87 L590.19,630.71 L591.08,629.50 L591.97,628.25 L592.86,626.95 L593.75,625.60 L594.63,624.20 L595.52,622.74 L596.41,621.23 L597.30,619.66 L598.19,618.04 L599.08,616.36 L599.97,614.62 L600.85,612.83 L601.74,610.97 L602.63,609.05 L603.52,607.07 L604.41,605.03 L605.30,602.93 L606.19,600.76 L607.08,598.53 L607.96,596.24 L608.85,593.89 L609.74,591.48 L610.63,589.02 L611.52,586.49 L612.41,583.91 L613.30,581.28 L614.19,578.60 L615.07,575.87 L615.96,573.10 L616.85,570.29 L617.74,567.44 L618.63,564.57 L619.52,561.67 L620.41,558.75 L621.29,555.82 L622.18,552.89 L623.07,549.96 L623.96,547.04 L624.85,544.15 L625.74,541.28 L626.63,538.45 L627.52,535.68 L628.40,532.97 L629.29,530.33 L630.18,527.77 L631.07,525.32 L631.96,522.97 L632.85,520.74 L633.74,518.65 L634.63,516.71 L635.51,514.93 L636.40,513.32 L637.29,511.89 L638.18,510.67 L639.07,509.64 L639.96,508.84 L640.85,508.27 L641.73,507.93 L642.62,507.83 L643.51,507.98 L644.40,508.39 L645.29,509.06 L646.18,509.99 L647.07,511.18 L647.96,512.63 L648.84,514.33 L649.73,516.29 L650.62,518.50 L651.51,520.94 L652.40,523.61 L653.29,526.49 L654.18,529.58 L655.06,532.86 L655.95,536.32 L656.84,539.92 L657.73,543.67 L658.62,547.54 L659.51,551.51 L660.40,555.56 L661.29,559.68 L662.17,563.83 L663.06,568.01 L663.95,572.20 L664.84,576.37 L665.73,580.51 L666.62,584.60 L667.51,588.63 L668.40,592.58 L669.28,596.44 L670.17,600.19 L671.06,603.84 L671.95,607.36 L672.84,610.75 L673.73,614.00 L674.62,617.12 L675.50,620.09 L676.39,622.92 L677.28,625.60 L678.17,628.13 L679.06,630.52 L679.95,632.76 L680.84,634.86 L681.73,636.83 L682.61,638.66 L683.50,640.37 L684.39,641.95 L685.28,643.41 L686.17,644.76 L687.06,646.01 L687.95,647.15 L688.84,648.20 L689.72,649.17 L690.61,650.04 L691.50,650.84 L692.39,651.57 L693.28,652.23 L694.17,652.83 L695.06,653.38 L695.94,653.87 L696.83,654.31 L697.72,654.71 L698.61,655.07 L699.50,655.39 L700.39,655.68 L701.28,655.94 L702.17,656.17 L703.05,656.38 L703.94,656.57 L704.83,656.73 L705.72,656.88 L706.61,657.01 L707.50,657.12 L708.39,657.23 L709.28,657.32 L710.16,657.40 L711.05,657.47 L711.94,657.53 L712.83,657.59 L713.72,657.64 L714.61,657.68 L715.50,657.72 L716.38,657.76 L717.27,657.79 L718.16,657.81 L719.05,657.84 L719.94,657.86 L720.83,657.87 L721.72,657.89 L722.61,657.90 L723.49,657.92 L724.38,657.93 L725.27,657.94 L726.16,657.94 L727.05,657.95 L727.94,657.96 L728.83,657.96 L729.71,657.97 L730.60,657.97 L731.49,657.97 L732.38,657.98 L733.27,657.98 L734.16,657.98 L735.05,657.99 L735.94,657.99 L736.82,657.99 L737.71,657.99 L738.60,657.99 L739.49,657.99 L740.38,657.99 L741.27,657.99 L742.16,658.00 L743.05,658.00 L743.93,658.00 L744.82,658.00 L745.71,658.00 L746.60,658.00" fill="none" stroke="#f6e61f" stroke-width="2.3" stroke-dasharray="7.6 3.4"/>
<rect x="505.0" y="500.6" width="253.70" height="164.80" fill="none" stroke="#1a1a1a" stroke-width="1.5"/>
<line x1="502.7" x2="505.0" y1="658.00" y2="658.00" stroke="#1a1a1a" stroke-width="1.2"/>
<text x="500.6" y="661.5" font-size="10" text-anchor="end" >0.00</text>
<line x1="502.7" x2="505.0" y1="629.45" y2="629.45" stroke="#1a1a1a" stroke-width="1.2"/>
<text x="500.6" y="632.95" font-size="10" text-anchor="end" >0.25</text>
<line x1="502.7" x2="505.0" y1="600.90" y2="600.90" stroke="#1a1a1a" stroke-width="1.2"/>
<text x="500.6" y="604.4" font-size="10" text-anchor="end" >0.50</text>
<line x1="502.7" x2="505.0" y1="572.35" y2="572.35" stroke="#1a1a1a" stroke-width="1.2"/>
<text x="500.6" y="575.85" font-size="10" text-anchor="end" >0.75</text>
<line x1="502.7" x2="505.0" y1="543.80" y2="543.80" stroke="#1a1a1a" stroke-width="1.2"/>
<text x="500.6" y="547.3" font-size="10" text-anchor="end" >1.00</text>
<line x1="502.7" x2="505.0" y1="515.25" y2="515.25" stroke="#1a1a1a" stroke-width="1.2"/>
<text x="500.6" y="518.75" font-size="10" text-anchor="end" >1.25</text>
<line x1="506.80" x2="506.80" y1="665.4" y2="666.6999999999999" stroke="#1a1a1a" stroke-width="0.7"/>
<line x1="512.22" x2="512.22" y1="665.4" y2="666.6999999999999" stroke="#1a1a1a" stroke-width="0.7"/>
<line x1="516.43" x2="516.43" y1="665.4" y2="666.6999999999999" stroke="#1a1a1a" stroke-width="0.7"/>
<line x1="519.87" x2="519.87" y1="665.4" y2="666.6999999999999" stroke="#1a1a1a" stroke-width="0.7"/>
<line x1="522.77" x2="522.77" y1="665.4" y2="666.6999999999999" stroke="#1a1a1a" stroke-width="0.7"/>
<line x1="525.29" x2="525.29" y1="665.4" y2="666.6999999999999" stroke="#1a1a1a" stroke-width="0.7"/>
<line x1="527.51" x2="527.51" y1="665.4" y2="666.6999999999999" stroke="#1a1a1a" stroke-width="0.7"/>
<line x1="529.50" x2="529.50" y1="665.4" y2="667.6999999999999" stroke="#1a1a1a" stroke-width="1.2"/>
<text x="517.60" y="680.2" font-size="10.0">10<tspan font-size="7.20" dy="-7.20" dx="0.5">−11</tspan></text>
<line x1="542.57" x2="542.57" y1="665.4" y2="666.6999999999999" stroke="#1a1a1a" stroke-width="0.7"/>
<line x1="550.22" x2="550.22" y1="665.4" y2="666.6999999999999" stroke="#1a1a1a" stroke-width="0.7"/>
<line x1="555.64" x2="555.64" y1="665.4" y2="666.6999999999999" stroke="#1a1a1a" stroke-width="0.7"/>
<line x1="559.85" x2="559.85" y1="665.4" y2="666.6999999999999" stroke="#1a1a1a" stroke-width="0.7"/>
<line x1="563.29" x2="563.29" y1="665.4" y2="666.6999999999999" stroke="#1a1a1a" stroke-width="0.7"/>
<line x1="566.19" x2="566.19" y1="665.4" y2="666.6999999999999" stroke="#1a1a1a" stroke-width="0.7"/>
<line x1="568.71" x2="568.71" y1="665.4" y2="666.6999999999999" stroke="#1a1a1a" stroke-width="0.7"/>
<line x1="570.93" x2="570.93" y1="665.4" y2="666.6999999999999" stroke="#1a1a1a" stroke-width="0.7"/>
<line x1="572.92" x2="572.92" y1="665.4" y2="667.6999999999999" stroke="#1a1a1a" stroke-width="1.2"/>
<text x="561.02" y="680.2" font-size="10.0">10<tspan font-size="7.20" dy="-7.20" dx="0.5">−10</tspan></text>
<line x1="585.99" x2="585.99" y1="665.4" y2="666.6999999999999" stroke="#1a1a1a" stroke-width="0.7"/>
<line x1="593.64" x2="593.64" y1="665.4" y2="666.6999999999999" stroke="#1a1a1a" stroke-width="0.7"/>
<line x1="599.06" x2="599.06" y1="665.4" y2="666.6999999999999" stroke="#1a1a1a" stroke-width="0.7"/>
<line x1="603.27" x2="603.27" y1="665.4" y2="666.6999999999999" stroke="#1a1a1a" stroke-width="0.7"/>
<line x1="606.71" x2="606.71" y1="665.4" y2="666.6999999999999" stroke="#1a1a1a" stroke-width="0.7"/>
<line x1="609.61" x2="609.61" y1="665.4" y2="666.6999999999999" stroke="#1a1a1a" stroke-width="0.7"/>
<line x1="612.13" x2="612.13" y1="665.4" y2="666.6999999999999" stroke="#1a1a1a" stroke-width="0.7"/>
<line x1="614.35" x2="614.35" y1="665.4" y2="666.6999999999999" stroke="#1a1a1a" stroke-width="0.7"/>
<line x1="616.34" x2="616.34" y1="665.4" y2="667.6999999999999" stroke="#1a1a1a" stroke-width="1.2"/>
<text x="604.44" y="680.2" font-size="10.0">10<tspan font-size="7.20" dy="-7.20" dx="0.5">−9</tspan></text>
<line x1="629.41" x2="629.41" y1="665.4" y2="666.6999999999999" stroke="#1a1a1a" stroke-width="0.7"/>
<line x1="637.06" x2="637.06" y1="665.4" y2="666.6999999999999" stroke="#1a1a1a" stroke-width="0.7"/>
<line x1="642.48" x2="642.48" y1="665.4" y2="666.6999999999999" stroke="#1a1a1a" stroke-width="0.7"/>
<line x1="646.69" x2="646.69" y1="665.4" y2="666.6999999999999" stroke="#1a1a1a" stroke-width="0.7"/>
<line x1="650.13" x2="650.13" y1="665.4" y2="666.6999999999999" stroke="#1a1a1a" stroke-width="0.7"/>
<line x1="653.03" x2="653.03" y1="665.4" y2="666.6999999999999" stroke="#1a1a1a" stroke-width="0.7"/>
<line x1="655.55" x2="655.55" y1="665.4" y2="666.6999999999999" stroke="#1a1a1a" stroke-width="0.7"/>
<line x1="657.77" x2="657.77" y1="665.4" y2="666.6999999999999" stroke="#1a1a1a" stroke-width="0.7"/>
<line x1="659.76" x2="659.76" y1="665.4" y2="667.6999999999999" stroke="#1a1a1a" stroke-width="1.2"/>
<text x="647.86" y="680.2" font-size="10.0">10<tspan font-size="7.20" dy="-7.20" dx="0.5">−8</tspan></text>
<line x1="672.83" x2="672.83" y1="665.4" y2="666.6999999999999" stroke="#1a1a1a" stroke-width="0.7"/>
<line x1="680.48" x2="680.48" y1="665.4" y2="666.6999999999999" stroke="#1a1a1a" stroke-width="0.7"/>
<line x1="685.90" x2="685.90" y1="665.4" y2="666.6999999999999" stroke="#1a1a1a" stroke-width="0.7"/>
<line x1="690.11" x2="690.11" y1="665.4" y2="666.6999999999999" stroke="#1a1a1a" stroke-width="0.7"/>
<line x1="693.55" x2="693.55" y1="665.4" y2="666.6999999999999" stroke="#1a1a1a" stroke-width="0.7"/>
<line x1="696.45" x2="696.45" y1="665.4" y2="666.6999999999999" stroke="#1a1a1a" stroke-width="0.7"/>
<line x1="698.97" x2="698.97" y1="665.4" y2="666.6999999999999" stroke="#1a1a1a" stroke-width="0.7"/>
<line x1="701.19" x2="701.19" y1="665.4" y2="666.6999999999999" stroke="#1a1a1a" stroke-width="0.7"/>
<line x1="703.18" x2="703.18" y1="665.4" y2="667.6999999999999" stroke="#1a1a1a" stroke-width="1.2"/>
<text x="691.28" y="680.2" font-size="10.0">10<tspan font-size="7.20" dy="-7.20" dx="0.5">−7</tspan></text>
<line x1="716.25" x2="716.25" y1="665.4" y2="666.6999999999999" stroke="#1a1a1a" stroke-width="0.7"/>
<line x1="723.90" x2="723.90" y1="665.4" y2="666.6999999999999" stroke="#1a1a1a" stroke-width="0.7"/>
<line x1="729.32" x2="729.32" y1="665.4" y2="666.6999999999999" stroke="#1a1a1a" stroke-width="0.7"/>
<line x1="733.53" x2="733.53" y1="665.4" y2="666.6999999999999" stroke="#1a1a1a" stroke-width="0.7"/>
<line x1="736.97" x2="736.97" y1="665.4" y2="666.6999999999999" stroke="#1a1a1a" stroke-width="0.7"/>
<line x1="739.87" x2="739.87" y1="665.4" y2="666.6999999999999" stroke="#1a1a1a" stroke-width="0.7"/>
<line x1="742.39" x2="742.39" y1="665.4" y2="666.6999999999999" stroke="#1a1a1a" stroke-width="0.7"/>
<line x1="744.61" x2="744.61" y1="665.4" y2="666.6999999999999" stroke="#1a1a1a" stroke-width="0.7"/>
<line x1="746.60" x2="746.60" y1="665.4" y2="667.6999999999999" stroke="#1a1a1a" stroke-width="1.2"/>
<text x="734.70" y="680.2" font-size="10.0">10<tspan font-size="7.20" dy="-7.20" dx="0.5">−6</tspan></text>
<rect x="512.8" y="506.6" width="95.8" height="54.0" rx="2" fill="#8c8c8c" opacity="0.75"/>
<rect x="511.0" y="504.8" width="95.8" height="54.0" rx="2" fill="#fff" stroke="#cfcfcf" stroke-width="0.8"/>
<line x1="514.4" x2="532.6" y1="511.6" y2="511.6" stroke="#440154" stroke-width="2.2" stroke-dasharray="7.8 4"/>
<text x="540.0" y="514.8" font-size="9.0" text-anchor="start" >200 nM - 50 nM</text>
<line x1="514.4" x2="532.6" y1="524.4" y2="524.4" stroke="#31688e" stroke-width="2.2" stroke-dasharray="7.8 4"/>
<text x="540.0" y="527.6" font-size="9.0" text-anchor="start" >100 nM - 50 nM</text>
<line x1="514.4" x2="532.6" y1="537.2" y2="537.2" stroke="#35b992" stroke-width="2.2" stroke-dasharray="7.8 4"/>
<text x="540.0" y="540.4" font-size="9.0" text-anchor="start" >10 nM - 50 nM</text>
<line x1="514.4" x2="532.6" y1="550.0" y2="550.0" stroke="#f6e61f" stroke-width="2.2" stroke-dasharray="7.8 4"/>
<text x="540.0" y="553.2" font-size="9.0" text-anchor="start" >10 nM - 8 nM</text>
<text x="631.5" y="496.8" font-size="12" font-weight="bold" text-anchor="middle" >Sensor response</text>
<g transform="translate(477.0,584.0) rotate(-90)"><text x="0" y="0" font-size="12" font-weight="bold" text-anchor="middle" >ABTa (x 100 pM)</text></g>
<text x="612.0" y="693.6" font-size="12" font-weight="bold">T<tspan font-size="8.4" dy="3.6">tot</tspan><tspan dy="-3.6"> (M)</tspan></text>
<text x="465.6" y="495.6" font-size="18" font-weight="bold" text-anchor="start" >D</text>
</g>
<g id="diagram">
<text x="1.6" y="14.9" font-size="18" font-weight="bold" text-anchor="start" >A</text>
<g transform="translate(78.9,18.4) rotate(-88) scale(0.725,0.725)"><path d="M4.0,17.4 L11.0,10.4 L14.0,20.8 Z" fill="#8d3b97"/><rect x="-14.3" y="-7.7" width="5.4" height="5.4" transform="rotate(-38 -11.6 -5.0)" fill="#f07f4e"/><path d="M-1.50,-17.10 C0.58,-17.15 2.92,-16.65 4.50,-15.80 C6.08,-14.95 7.30,-13.38 8.00,-12.00 C8.70,-10.62 8.87,-9.08 8.70,-7.50 C8.53,-5.92 7.33,-4.00 7.00,-2.50 C6.67,-1.00 6.28,0.08 6.70,1.50 C7.12,2.92 8.78,4.50 9.50,6.00 C10.22,7.50 11.00,9.00 11.00,10.50 C11.00,12.00 10.58,13.85 9.50,15.00 C8.42,16.15 6.33,17.15 4.50,17.40 C2.67,17.65 0.28,17.15 -1.50,16.50 C-3.28,15.85 -5.17,14.67 -6.20,13.50 C-7.23,12.33 -7.73,10.92 -7.70,9.50 C-7.67,8.08 -6.48,6.38 -6.00,5.00 C-5.52,3.62 -4.55,2.53 -4.80,1.20 C-5.05,-0.13 -6.47,-1.55 -7.50,-3.00 C-8.53,-4.45 -10.37,-6.00 -11.00,-7.50 C-11.63,-9.00 -11.80,-10.67 -11.30,-12.00 C-10.80,-13.33 -9.63,-14.65 -8.00,-15.50 C-6.37,-16.35 -3.58,-17.05 -1.50,-17.10Z" fill="#52b996" stroke="#3c9f7e" stroke-width="0.6"/></g>
<text x="98.2" y="21.4" font-size="13.3" font-weight="bold" text-anchor="start" >Analyte (T)</text>
<text x="98.2" y="46.0" font-size="13.3" font-weight="bold" text-anchor="start" >Antibody-A (A)</text>
<text x="98.2" y="69.9" font-size="13.3" font-weight="bold" text-anchor="start" >Antibody-B (B)</text>
<path d="M71.50,39.40 C71.12,38.90 70.15,37.10 69.20,36.40 C68.25,35.70 67.03,35.02 65.80,35.20 C64.57,35.38 63.13,36.55 61.80,37.50 C60.47,38.45 59.13,40.43 57.80,40.90 C56.47,41.37 55.13,41.15 53.80,40.30 C52.47,39.45 51.03,36.92 49.80,35.80 C48.57,34.68 46.97,33.97 46.40,33.60" fill="none" stroke="#161616" stroke-width="1.4" stroke-linecap="round"/>
<path d="M37.9,36.9 L43.6,31.0 L46.4,37.5 Z" fill="#7d9ad2"/>
<path d="M89.70,34.10 L79.50,40.75 L68.62,40.75" fill="none" stroke="#f28c60" stroke-width="2.63" stroke-linejoin="round" stroke-linecap="butt"/><circle cx="68.62" cy="40.75" r="1.32" fill="#f28c60"/><circle cx="80.07" cy="36.29" r="1.24" fill="#f28c60"/><path d="M80.07,36.29 L86.87,31.40" fill="none" stroke="#f28c60" stroke-width="2.47" stroke-linecap="butt"/><path d="M90.30,50.60 L79.50,44.45 L68.62,44.45" fill="none" stroke="#f28c60" stroke-width="2.63" stroke-linejoin="round" stroke-linecap="butt"/><circle cx="68.62" cy="44.45" r="1.32" fill="#f28c60"/><circle cx="80.34" cy="48.87" r="1.24" fill="#f28c60"/><path d="M80.34,48.87 L87.63,53.48" fill="none" stroke="#f28c60" stroke-width="2.47" stroke-linecap="butt"/>
<path d="M71.50,72.00 C70.93,72.23 69.43,73.20 68.10,73.40 C66.77,73.60 65.03,73.20 63.50,73.20 C61.97,73.20 60.42,73.08 58.90,73.40 C57.38,73.72 56.00,74.82 54.40,75.10 C52.80,75.38 50.15,75.10 49.30,75.10" fill="none" stroke="#161616" stroke-width="1.4" stroke-linecap="round"/>
<path d="M42.8,74.0 L36.81,75.60 A6.2,6.2 0 1 1 43.88,80.11 Z" fill="#8193c9" stroke="#6578ad" stroke-width="0.7" stroke-linejoin="round"/>
<path d="M89.70,58.60 L79.50,65.85 L68.62,65.85" fill="none" stroke="#a3357f" stroke-width="2.63" stroke-linejoin="round" stroke-linecap="butt"/><circle cx="68.62" cy="65.85" r="1.32" fill="#a3357f"/><circle cx="79.89" cy="61.37" r="1.24" fill="#a3357f"/><path d="M79.89,61.37 L86.75,56.00" fill="none" stroke="#a3357f" stroke-width="2.47" stroke-linecap="butt"/><path d="M90.30,75.70 L79.50,69.55 L68.62,69.55" fill="none" stroke="#a3357f" stroke-width="2.63" stroke-linejoin="round" stroke-linecap="butt"/><circle cx="68.62" cy="69.55" r="1.32" fill="#a3357f"/><circle cx="80.34" cy="73.97" r="1.24" fill="#a3357f"/><path d="M80.34,73.97 L87.63,78.58" fill="none" stroke="#a3357f" stroke-width="2.47" stroke-linecap="butt"/>
<path d="M59.60,218.20 C60.47,218.80 63.55,220.25 64.80,221.80 C66.05,223.35 67.00,225.60 67.10,227.50 C67.20,229.40 66.53,231.48 65.40,233.20 C64.27,234.92 61.73,236.08 60.30,237.80 C58.87,239.52 57.33,241.73 56.80,243.50 C56.27,245.27 56.33,246.70 57.10,248.40 C57.87,250.10 59.73,252.05 61.40,253.70 C63.07,255.35 65.62,256.77 67.10,258.30 C68.58,259.83 69.73,261.45 70.30,262.90 C70.87,264.35 70.47,266.32 70.50,267.00" fill="none" stroke="#161616" stroke-width="1.6" stroke-linecap="round"/>
<path d="M64.2,266.3 L73.4,269.7 L66.0,277.1 Z" fill="#7d9ad2"/>
<path d="M40.40,182.50 L49.90,201.00 L49.90,223.95" fill="none" stroke="#f0875a" stroke-width="4.70" stroke-linejoin="round" stroke-linecap="butt"/><circle cx="49.90" cy="223.95" r="2.35" fill="#f0875a"/><circle cx="43.43" cy="200.94" r="2.21" fill="#f0875a"/><path d="M43.43,200.94 L35.38,186.88" fill="none" stroke="#f0875a" stroke-width="4.42" stroke-linecap="butt"/><path d="M65.90,182.70 L56.50,201.00 L56.50,223.95" fill="none" stroke="#f0875a" stroke-width="4.70" stroke-linejoin="round" stroke-linecap="butt"/><circle cx="56.50" cy="223.95" r="2.35" fill="#f0875a"/><circle cx="62.97" cy="200.94" r="2.21" fill="#f0875a"/><path d="M62.97,200.94 L70.91,187.07" fill="none" stroke="#f0875a" stroke-width="4.42" stroke-linecap="butt"/>
<path d="M113.60,216.80 C112.90,217.43 110.33,218.82 109.40,220.60 C108.47,222.38 107.93,225.20 108.00,227.50 C108.07,229.80 109.68,232.12 109.80,234.40 C109.92,236.68 109.37,239.12 108.70,241.20 C108.03,243.28 106.50,245.00 105.80,246.90 C105.10,248.80 104.60,250.52 104.50,252.60 C104.40,254.68 105.08,258.27 105.20,259.40" fill="none" stroke="#161616" stroke-width="1.6" stroke-linecap="round"/>
<path d="M107.5,270.3 L96.94,266.87 A11.1,11.1 0 1 1 99.38,277.87 Z" fill="#8193c9" stroke="#6578ad" stroke-width="0.7" stroke-linejoin="round"/>
<path d="M107.31,184.37 L115.90,200.30 L115.90,222.65" fill="none" stroke="#9b4a9f" stroke-width="4.70" stroke-linejoin="round" stroke-linecap="round"/><circle cx="115.90" cy="222.65" r="2.35" fill="#9b4a9f"/><path d="M109.36,200.25 L102.48,188.79" fill="none" stroke="#9b4a9f" stroke-width="4.42" stroke-linecap="round"/><path d="M131.18,184.36 L122.50,200.30 L122.50,222.65" fill="none" stroke="#9b4a9f" stroke-width="4.70" stroke-linejoin="round" stroke-linecap="round"/><circle cx="122.50" cy="222.65" r="2.35" fill="#9b4a9f"/><path d="M129.04,200.27 L136.00,188.81" fill="none" stroke="#9b4a9f" stroke-width="4.42" stroke-linecap="round"/>
<text x="32.0" y="235.6" font-size="13" font-weight="bold" text-anchor="start" >A</text>
<text x="131.0" y="235.6" font-size="13" font-weight="bold" text-anchor="start" >B</text>
<line x1="78.30" y1="342.60" x2="78.30" y2="298.82" stroke="#161616" stroke-width="3.1"/><path d="M78.30,292.80 L83.00,301.40 L78.30,299.51 L73.60,301.40 Z" fill="#161616"/>
<line x1="92.50" y1="292.80" x2="92.50" y2="336.58" stroke="#161616" stroke-width="3.1"/><path d="M92.50,342.60 L87.80,334.00 L92.50,335.89 L97.20,334.00 Z" fill="#161616"/>
<text y="320.5" font-size="14.3" font-weight="bold" stroke="#111" stroke-width="0.25"><tspan x="48.80">K</tspan><tspan font-size="8.5" dy="5.1" letter-spacing="0.25">D,N</tspan></text>
<circle cx="82.7" cy="413.6" r="36.5" fill="url(#glow)"/>
<path d="M55.60,387.80 C56.68,387.90 60.37,387.23 62.10,388.40 C63.83,389.57 65.75,392.42 66.00,394.80 C66.25,397.18 63.87,400.43 63.60,402.70 C63.33,404.97 63.07,407.17 64.40,408.40 C65.73,409.63 70.40,409.82 71.60,410.10" fill="none" stroke="#161616" stroke-width="1.6" stroke-linecap="round"/>
<path d="M107.00,384.20 C106.17,384.38 103.48,384.12 102.00,385.30 C100.52,386.48 98.33,388.88 98.10,391.30 C97.87,393.72 100.07,397.18 100.60,399.80 C101.13,402.42 101.78,405.28 101.30,407.00 C100.82,408.72 99.25,409.58 97.70,410.10 C96.15,410.62 92.95,410.10 92.00,410.10" fill="none" stroke="#161616" stroke-width="1.6" stroke-linecap="round"/>
<circle cx="82.0" cy="414.7" r="10.9" fill="#8a92cb" stroke="#6c73b0" stroke-width="1.0"/><path d="M72.98,411.79 L81.20,414.30 L77.28,408.02" fill="#7a82bd" stroke="#545a98" stroke-width="0.8" stroke-linejoin="round"/>
<path d="M31.50,356.00 L43.82,372.77 L46.36,395.04" fill="none" stroke="#f0875a" stroke-width="4.70" stroke-linejoin="round" stroke-linecap="butt"/><circle cx="46.36" cy="395.04" r="2.35" fill="#f0875a"/><circle cx="37.42" cy="373.74" r="2.21" fill="#f0875a"/><path d="M37.42,373.74 L27.23,361.12" fill="none" stroke="#f0875a" stroke-width="4.42" stroke-linecap="butt"/><path d="M56.90,352.50 L50.38,372.03 L52.91,394.29" fill="none" stroke="#f0875a" stroke-width="4.70" stroke-linejoin="round" stroke-linecap="butt"/><circle cx="52.91" cy="394.29" r="2.35" fill="#f0875a"/><circle cx="56.77" cy="370.99" r="2.21" fill="#f0875a"/><path d="M56.77,370.99 L62.52,356.06" fill="none" stroke="#f0875a" stroke-width="4.42" stroke-linecap="butt"/>
<path d="M107.55,350.78 L112.23,370.15 L109.45,390.22" fill="none" stroke="#9b4a9f" stroke-width="4.70" stroke-linejoin="round" stroke-linecap="round"/><circle cx="109.45" cy="390.22" r="2.35" fill="#9b4a9f"/><path d="M105.92,368.43 L101.67,353.85" fill="none" stroke="#9b4a9f" stroke-width="4.42" stroke-linecap="round"/><path d="M131.11,356.02 L118.77,371.05 L115.99,391.12" fill="none" stroke="#9b4a9f" stroke-width="4.70" stroke-linejoin="round" stroke-linecap="round"/><circle cx="115.99" cy="391.12" r="2.35" fill="#9b4a9f"/><path d="M125.20,372.25 L135.05,361.32" fill="none" stroke="#9b4a9f" stroke-width="4.42" stroke-linecap="round"/>
<text x="81.8" y="455.8" font-size="13" font-weight="bold" text-anchor="middle" >AB</text>
<line x1="211.50" y1="133.90" x2="172.27" y2="151.89" stroke="#161616" stroke-width="3.1"/><path d="M166.80,154.40 L172.66,146.54 L172.90,151.60 L176.58,155.09 Z" fill="#161616"/>
<line x1="172.80" y1="167.20" x2="211.73" y2="149.22" stroke="#161616" stroke-width="3.1"/><path d="M217.20,146.70 L211.36,154.57 L211.11,149.51 L207.42,146.04 Z" fill="#161616"/>
<text y="125.0" font-size="14.3" font-weight="bold" stroke="#111" stroke-width="0.25"><tspan x="166.50" dy="-5.0" font-size="7.9">1</tspan><tspan x="170.60" dy="5.4">/</tspan><tspan x="175.50" font-size="7.9" dy="0">2</tspan><tspan x="185.00" dy="-0.2">K</tspan><tspan font-size="8.5" dy="5.1" letter-spacing="0.25">D,A</tspan></text>
<g transform="translate(203.4,174.1) rotate(0) scale(0.760,0.760)"><path d="M4.0,17.4 L11.0,10.4 L14.0,20.8 Z" fill="#8d3b97"/><rect x="-14.3" y="-7.7" width="5.4" height="5.4" transform="rotate(-38 -11.6 -5.0)" fill="#f07f4e"/><path d="M-1.50,-17.10 C0.58,-17.15 2.92,-16.65 4.50,-15.80 C6.08,-14.95 7.30,-13.38 8.00,-12.00 C8.70,-10.62 8.87,-9.08 8.70,-7.50 C8.53,-5.92 7.33,-4.00 7.00,-2.50 C6.67,-1.00 6.28,0.08 6.70,1.50 C7.12,2.92 8.78,4.50 9.50,6.00 C10.22,7.50 11.00,9.00 11.00,10.50 C11.00,12.00 10.58,13.85 9.50,15.00 C8.42,16.15 6.33,17.15 4.50,17.40 C2.67,17.65 0.28,17.15 -1.50,16.50 C-3.28,15.85 -5.17,14.67 -6.20,13.50 C-7.23,12.33 -7.73,10.92 -7.70,9.50 C-7.67,8.08 -6.48,6.38 -6.00,5.00 C-5.52,3.62 -4.55,2.53 -4.80,1.20 C-5.05,-0.13 -6.47,-1.55 -7.50,-3.00 C-8.53,-4.45 -10.37,-6.00 -11.00,-7.50 C-11.63,-9.00 -11.80,-10.67 -11.30,-12.00 C-10.80,-13.33 -9.63,-14.65 -8.00,-15.50 C-6.37,-16.35 -3.58,-17.05 -1.50,-17.10Z" fill="#52b996" stroke="#3c9f7e" stroke-width="0.6"/></g>
<line x1="172.50" y1="219.20" x2="211.74" y2="237.37" stroke="#161616" stroke-width="3.1"/><path d="M217.20,239.90 L207.42,240.55 L211.11,237.08 L211.37,232.02 Z" fill="#161616"/>
<line x1="211.50" y1="253.00" x2="172.27" y2="235.01" stroke="#161616" stroke-width="3.1"/><path d="M166.80,232.50 L176.58,231.81 L172.90,235.30 L172.66,240.36 Z" fill="#161616"/>
<text y="268.6" font-size="14.3" font-weight="bold" stroke="#111" stroke-width="0.25"><tspan x="166.50" dy="-5.0" font-size="7.9">1</tspan><tspan x="170.60" dy="5.4">/</tspan><tspan x="175.50" font-size="7.9" dy="0">2</tspan><tspan x="185.00" dy="-0.2">K</tspan><tspan font-size="8.5" dy="5.1" letter-spacing="0.25">D,B</tspan></text>
<g transform="translate(203.4,214.6) rotate(0) scale(0.760,0.760)"><path d="M4.0,17.4 L11.0,10.4 L14.0,20.8 Z" fill="#8d3b97"/><rect x="-14.3" y="-7.7" width="5.4" height="5.4" transform="rotate(-38 -11.6 -5.0)" fill="#f07f4e"/><path d="M-1.50,-17.10 C0.58,-17.15 2.92,-16.65 4.50,-15.80 C6.08,-14.95 7.30,-13.38 8.00,-12.00 C8.70,-10.62 8.87,-9.08 8.70,-7.50 C8.53,-5.92 7.33,-4.00 7.00,-2.50 C6.67,-1.00 6.28,0.08 6.70,1.50 C7.12,2.92 8.78,4.50 9.50,6.00 C10.22,7.50 11.00,9.00 11.00,10.50 C11.00,12.00 10.58,13.85 9.50,15.00 C8.42,16.15 6.33,17.15 4.50,17.40 C2.67,17.65 0.28,17.15 -1.50,16.50 C-3.28,15.85 -5.17,14.67 -6.20,13.50 C-7.23,12.33 -7.73,10.92 -7.70,9.50 C-7.67,8.08 -6.48,6.38 -6.00,5.00 C-5.52,3.62 -4.55,2.53 -4.80,1.20 C-5.05,-0.13 -6.47,-1.55 -7.50,-3.00 C-8.53,-4.45 -10.37,-6.00 -11.00,-7.50 C-11.63,-9.00 -11.80,-10.67 -11.30,-12.00 C-10.80,-13.33 -9.63,-14.65 -8.00,-15.50 C-6.37,-16.35 -3.58,-17.05 -1.50,-17.10Z" fill="#52b996" stroke="#3c9f7e" stroke-width="0.6"/></g>
<path d="M268.40,140.90 C269.07,141.72 271.57,143.82 272.40,145.80 C273.23,147.78 273.98,150.72 273.40,152.80 C272.82,154.88 270.65,156.77 268.90,158.30 C267.15,159.83 264.62,160.45 262.90,162.00 C261.18,163.55 259.22,165.53 258.60,167.60 C257.98,169.67 258.30,172.23 259.20,174.40 C260.10,176.57 262.77,178.67 264.00,180.60 C265.23,182.53 266.33,184.27 266.60,186.00 C266.87,187.73 265.77,190.17 265.60,191.00" fill="none" stroke="#161616" stroke-width="1.6" stroke-linecap="round"/>
<path d="M259.6,189.4 L268.8,192.6 L261.2,199.8 Z" fill="#7d9ad2"/>
<path d="M259.50,102.50 L263.39,124.13 L258.54,144.24" fill="none" stroke="#f0875a" stroke-width="4.70" stroke-linejoin="round" stroke-linecap="butt"/><circle cx="258.54" cy="144.24" r="2.35" fill="#f0875a"/><circle cx="257.22" cy="122.18" r="2.21" fill="#f0875a"/><path d="M257.22,122.18 L253.37,105.23" fill="none" stroke="#f0875a" stroke-width="4.42" stroke-linecap="butt"/><path d="M286.40,110.40 L269.81,125.67 L264.96,145.79" fill="none" stroke="#f0875a" stroke-width="4.70" stroke-linejoin="round" stroke-linecap="butt"/><circle cx="264.96" cy="145.79" r="2.35" fill="#f0875a"/><circle cx="275.90" cy="127.85" r="2.21" fill="#f0875a"/><path d="M275.90,127.85 L289.65,116.29" fill="none" stroke="#f0875a" stroke-width="4.42" stroke-linecap="butt"/>
<g transform="translate(299.3,116.9) rotate(0) scale(1.000,1.000)"><path d="M4.0,17.4 L11.0,10.4 L14.0,20.8 Z" fill="#8d3b97"/><path d="M-1.50,-17.10 C0.58,-17.15 2.92,-16.65 4.50,-15.80 C6.08,-14.95 7.30,-13.38 8.00,-12.00 C8.70,-10.62 8.87,-9.08 8.70,-7.50 C8.53,-5.92 7.33,-4.00 7.00,-2.50 C6.67,-1.00 6.28,0.08 6.70,1.50 C7.12,2.92 8.78,4.50 9.50,6.00 C10.22,7.50 11.00,9.00 11.00,10.50 C11.00,12.00 10.58,13.85 9.50,15.00 C8.42,16.15 6.33,17.15 4.50,17.40 C2.67,17.65 0.28,17.15 -1.50,16.50 C-3.28,15.85 -5.17,14.67 -6.20,13.50 C-7.23,12.33 -7.73,10.92 -7.70,9.50 C-7.67,8.08 -6.48,6.38 -6.00,5.00 C-5.52,3.62 -4.55,2.53 -4.80,1.20 C-5.05,-0.13 -6.47,-1.55 -7.50,-3.00 C-8.53,-4.45 -10.37,-6.00 -11.00,-7.50 C-11.63,-9.00 -11.80,-10.67 -11.30,-12.00 C-10.80,-13.33 -9.63,-14.65 -8.00,-15.50 C-6.37,-16.35 -3.58,-17.05 -1.50,-17.10Z" fill="#52b996" stroke="#3c9f7e" stroke-width="0.6"/><rect x="-14.3" y="-7.7" width="5.4" height="5.4" transform="rotate(-38 -11.6 -5.0)" fill="#f07f4e"/></g>
<text x="284.6" y="149.9" font-size="13" font-weight="bold" text-anchor="start" >AT</text>
<path d="M291.20,305.80 C290.82,306.65 289.10,308.90 288.90,310.90 C288.70,312.90 289.38,315.45 290.00,317.80 C290.62,320.15 292.10,322.47 292.60,325.00 C293.10,327.53 293.07,330.50 293.00,333.00 C292.93,335.50 292.10,337.70 292.20,340.00 C292.30,342.30 293.37,345.67 293.60,346.80" fill="none" stroke="#161616" stroke-width="1.6" stroke-linecap="round"/>
<path d="M300.2,357.2 L289.34,358.15 A10.9,10.9 0 1 1 295.77,367.16 Z" fill="#8193c9" stroke="#6578ad" stroke-width="0.7" stroke-linejoin="round"/>
<g transform="translate(265.1,260.8) rotate(1) scale(1.000,1.000)"><rect x="-14.3" y="-7.7" width="5.4" height="5.4" transform="rotate(-38 -11.6 -5.0)" fill="#f07f4e"/><path d="M-1.50,-17.10 C0.58,-17.15 2.92,-16.65 4.50,-15.80 C6.08,-14.95 7.30,-13.38 8.00,-12.00 C8.70,-10.62 8.87,-9.08 8.70,-7.50 C8.53,-5.92 7.33,-4.00 7.00,-2.50 C6.67,-1.00 6.28,0.08 6.70,1.50 C7.12,2.92 8.78,4.50 9.50,6.00 C10.22,7.50 11.00,9.00 11.00,10.50 C11.00,12.00 10.58,13.85 9.50,15.00 C8.42,16.15 6.33,17.15 4.50,17.40 C2.67,17.65 0.28,17.15 -1.50,16.50 C-3.28,15.85 -5.17,14.67 -6.20,13.50 C-7.23,12.33 -7.73,10.92 -7.70,9.50 C-7.67,8.08 -6.48,6.38 -6.00,5.00 C-5.52,3.62 -4.55,2.53 -4.80,1.20 C-5.05,-0.13 -6.47,-1.55 -7.50,-3.00 C-8.53,-4.45 -10.37,-6.00 -11.00,-7.50 C-11.63,-9.00 -11.80,-10.67 -11.30,-12.00 C-10.80,-13.33 -9.63,-14.65 -8.00,-15.50 C-6.37,-16.35 -3.58,-17.05 -1.50,-17.10Z" fill="#52b996" stroke="#3c9f7e" stroke-width="0.6"/></g>
<path d="M275.32,274.40 L291.59,289.46 L296.15,308.87" fill="none" stroke="#9b4a9f" stroke-width="4.70" stroke-linejoin="round" stroke-linecap="round"/><circle cx="296.15" cy="308.87" r="2.35" fill="#9b4a9f"/><path d="M285.38,291.52 L270.39,278.84" fill="none" stroke="#9b4a9f" stroke-width="4.42" stroke-linecap="round"/><path d="M301.38,269.41 L298.01,287.94 L302.57,307.36" fill="none" stroke="#9b4a9f" stroke-width="4.70" stroke-linejoin="round" stroke-linecap="round"/><circle cx="302.57" cy="307.36" r="2.35" fill="#9b4a9f"/><path d="M304.22,285.87 L307.86,269.98" fill="none" stroke="#9b4a9f" stroke-width="4.42" stroke-linecap="round"/>
<text x="254.2" y="294.6" font-size="13" font-weight="bold" text-anchor="start" >BT</text>
<line x1="401.00" y1="44.20" x2="361.47" y2="62.29" stroke="#161616" stroke-width="3.1"/><path d="M356.00,64.80 L361.86,56.95 L362.10,62.01 L365.78,65.49 Z" fill="#161616"/>
<line x1="361.70" y1="77.70" x2="401.23" y2="59.52" stroke="#161616" stroke-width="3.1"/><path d="M406.70,57.00 L400.85,64.86 L400.61,59.80 L396.92,56.32 Z" fill="#161616"/>
<text y="34.9" font-size="14.3" font-weight="bold" stroke="#111" stroke-width="0.25"><tspan x="364.90">2</tspan><tspan x="377.50">K</tspan><tspan font-size="8.5" dy="5.1" letter-spacing="0.25">D,A</tspan></text>
<g transform="translate(392.7,84.1) rotate(0) scale(0.760,0.760)"><path d="M4.0,17.4 L11.0,10.4 L14.0,20.8 Z" fill="#8d3b97"/><rect x="-14.3" y="-7.7" width="5.4" height="5.4" transform="rotate(-38 -11.6 -5.0)" fill="#f07f4e"/><path d="M-1.50,-17.10 C0.58,-17.15 2.92,-16.65 4.50,-15.80 C6.08,-14.95 7.30,-13.38 8.00,-12.00 C8.70,-10.62 8.87,-9.08 8.70,-7.50 C8.53,-5.92 7.33,-4.00 7.00,-2.50 C6.67,-1.00 6.28,0.08 6.70,1.50 C7.12,2.92 8.78,4.50 9.50,6.00 C10.22,7.50 11.00,9.00 11.00,10.50 C11.00,12.00 10.58,13.85 9.50,15.00 C8.42,16.15 6.33,17.15 4.50,17.40 C2.67,17.65 0.28,17.15 -1.50,16.50 C-3.28,15.85 -5.17,14.67 -6.20,13.50 C-7.23,12.33 -7.73,10.92 -7.70,9.50 C-7.67,8.08 -6.48,6.38 -6.00,5.00 C-5.52,3.62 -4.55,2.53 -4.80,1.20 C-5.05,-0.13 -6.47,-1.55 -7.50,-3.00 C-8.53,-4.45 -10.37,-6.00 -11.00,-7.50 C-11.63,-9.00 -11.80,-10.67 -11.30,-12.00 C-10.80,-13.33 -9.63,-14.65 -8.00,-15.50 C-6.37,-16.35 -3.58,-17.05 -1.50,-17.10Z" fill="#52b996" stroke="#3c9f7e" stroke-width="0.6"/></g>
<line x1="406.60" y1="154.40" x2="367.60" y2="136.96" stroke="#161616" stroke-width="3.1"/><path d="M362.10,134.50 L371.87,133.72 L368.22,137.24 L368.03,142.30 Z" fill="#161616"/>
<line x1="355.90" y1="147.00" x2="395.01" y2="164.54" stroke="#161616" stroke-width="3.1"/><path d="M400.50,167.00 L390.73,167.77 L394.38,164.26 L394.58,159.19 Z" fill="#161616"/>
<text y="128.2" font-size="14.3" font-weight="bold" stroke="#111" stroke-width="0.25"><tspan x="360.20" dy="-5.0" font-size="7.9">1</tspan><tspan x="364.30" dy="5.4">/</tspan><tspan x="369.20" font-size="7.9" dy="0">2</tspan><tspan x="378.70" dy="-0.2">K</tspan><tspan font-size="8.5" dy="5.1" letter-spacing="0.25">D,B</tspan></text>
<path d="M352.90,166.30 C353.92,166.85 357.08,168.82 359.00,169.60 C360.92,170.38 362.83,170.08 364.40,171.00 C365.97,171.92 367.05,174.27 368.40,175.10 C369.75,175.93 371.82,175.85 372.50,176.00" fill="none" stroke="#161616" stroke-width="1.3" stroke-linecap="round"/>
<path d="M348.1,161.5 L341.92,160.96 A6.2,6.2 0 1 1 345.98,167.33 Z" fill="#8193c9" stroke="#6578ad" stroke-width="0.7" stroke-linejoin="round"/>
<path d="M395.80,175.60 L381.37,175.52 L373.69,170.81" fill="none" stroke="#a3357f" stroke-width="2.63" stroke-linejoin="round" stroke-linecap="butt"/><circle cx="373.69" cy="170.81" r="1.32" fill="#a3357f"/><circle cx="384.86" cy="172.09" r="1.24" fill="#a3357f"/><path d="M384.86,172.09 L394.92,171.69" fill="none" stroke="#a3357f" stroke-width="2.47" stroke-linecap="butt"/><path d="M386.30,190.00 L379.43,178.68 L371.76,173.96" fill="none" stroke="#a3357f" stroke-width="2.63" stroke-linejoin="round" stroke-linecap="butt"/><circle cx="371.76" cy="173.96" r="1.32" fill="#a3357f"/><circle cx="378.29" cy="183.44" r="1.24" fill="#a3357f"/><path d="M378.29,183.44 L382.54,191.23" fill="none" stroke="#a3357f" stroke-width="2.47" stroke-linecap="butt"/>
<path d="M369.10,217.70 C368.43,217.52 366.23,215.92 365.10,216.60 C363.97,217.28 363.10,219.70 362.30,221.80 C361.50,223.90 361.77,227.62 360.30,229.20 C358.83,230.78 355.32,230.57 353.50,231.30 C351.68,232.03 350.08,233.22 349.40,233.60" fill="none" stroke="#161616" stroke-width="1.3" stroke-linecap="round"/>
<path d="M345.4,233.3 L352.9,236.4 L346.8,242.1 Z" fill="#7d9ad2"/>
<path d="M376.30,199.40 L374.83,212.58 L369.43,219.63" fill="none" stroke="#f28c60" stroke-width="2.63" stroke-linejoin="round" stroke-linecap="butt"/><circle cx="369.43" cy="219.63" r="1.32" fill="#f28c60"/><circle cx="371.79" cy="208.74" r="1.24" fill="#f28c60"/><path d="M371.79,208.74 L372.37,199.86" fill="none" stroke="#f28c60" stroke-width="2.47" stroke-linecap="butt"/><path d="M390.80,209.60 L377.77,214.82 L372.37,221.88" fill="none" stroke="#f28c60" stroke-width="2.63" stroke-linejoin="round" stroke-linecap="butt"/><circle cx="372.37" cy="221.88" r="1.32" fill="#f28c60"/><circle cx="382.28" cy="216.73" r="1.24" fill="#f28c60"/><path d="M382.28,216.73 L391.41,213.54" fill="none" stroke="#f28c60" stroke-width="2.47" stroke-linecap="butt"/>
<line x1="355.90" y1="239.90" x2="395.02" y2="222.09" stroke="#161616" stroke-width="3.1"/><path d="M400.50,219.60 L394.62,227.44 L394.39,222.38 L390.73,218.88 Z" fill="#161616"/>
<line x1="406.90" y1="231.60" x2="367.46" y2="249.87" stroke="#161616" stroke-width="3.1"/><path d="M362.00,252.40 L367.83,244.52 L368.09,249.58 L371.78,253.05 Z" fill="#161616"/>
<text y="268.6" font-size="14.3" font-weight="bold" stroke="#111" stroke-width="0.25"><tspan x="360.20" dy="-5.0" font-size="7.9">1</tspan><tspan x="364.30" dy="5.4">/</tspan><tspan x="369.20" font-size="7.9" dy="0">2</tspan><tspan x="378.70" dy="-0.2">K</tspan><tspan font-size="8.5" dy="5.1" letter-spacing="0.25">D,A</tspan></text>
<line x1="362.10" y1="308.20" x2="401.15" y2="326.54" stroke="#161616" stroke-width="3.1"/><path d="M406.60,329.10 L396.82,329.70 L400.53,326.25 L400.81,321.19 Z" fill="#161616"/>
<line x1="400.50" y1="342.00" x2="361.37" y2="324.10" stroke="#161616" stroke-width="3.1"/><path d="M355.90,321.60 L365.68,320.90 L362.00,324.39 L361.77,329.45 Z" fill="#161616"/>
<text y="358.1" font-size="14.3" font-weight="bold" stroke="#111" stroke-width="0.25"><tspan x="364.80">2</tspan><tspan x="377.40">K</tspan><tspan font-size="8.5" dy="5.1" letter-spacing="0.25">D,B</tspan></text>
<g transform="translate(392.8,303.9) rotate(0) scale(0.760,0.760)"><path d="M4.0,17.4 L11.0,10.4 L14.0,20.8 Z" fill="#8d3b97"/><rect x="-14.3" y="-7.7" width="5.4" height="5.4" transform="rotate(-38 -11.6 -5.0)" fill="#f07f4e"/><path d="M-1.50,-17.10 C0.58,-17.15 2.92,-16.65 4.50,-15.80 C6.08,-14.95 7.30,-13.38 8.00,-12.00 C8.70,-10.62 8.87,-9.08 8.70,-7.50 C8.53,-5.92 7.33,-4.00 7.00,-2.50 C6.67,-1.00 6.28,0.08 6.70,1.50 C7.12,2.92 8.78,4.50 9.50,6.00 C10.22,7.50 11.00,9.00 11.00,10.50 C11.00,12.00 10.58,13.85 9.50,15.00 C8.42,16.15 6.33,17.15 4.50,17.40 C2.67,17.65 0.28,17.15 -1.50,16.50 C-3.28,15.85 -5.17,14.67 -6.20,13.50 C-7.23,12.33 -7.73,10.92 -7.70,9.50 C-7.67,8.08 -6.48,6.38 -6.00,5.00 C-5.52,3.62 -4.55,2.53 -4.80,1.20 C-5.05,-0.13 -6.47,-1.55 -7.50,-3.00 C-8.53,-4.45 -10.37,-6.00 -11.00,-7.50 C-11.63,-9.00 -11.80,-10.67 -11.30,-12.00 C-10.80,-13.33 -9.63,-14.65 -8.00,-15.50 C-6.37,-16.35 -3.58,-17.05 -1.50,-17.10Z" fill="#52b996" stroke="#3c9f7e" stroke-width="0.6"/></g>
<path d="M481.30,61.80 C481.85,62.68 484.05,65.12 484.60,67.10 C485.15,69.08 485.47,71.65 484.60,73.70 C483.73,75.75 481.27,77.62 479.40,79.40 C477.53,81.18 475.03,82.53 473.40,84.40 C471.77,86.27 470.13,88.40 469.60,90.60 C469.07,92.80 469.37,95.47 470.20,97.60 C471.03,99.73 473.37,101.67 474.60,103.40 C475.83,105.13 477.17,106.50 477.60,108.00 C478.03,109.50 477.27,111.67 477.20,112.40" fill="none" stroke="#161616" stroke-width="1.6" stroke-linecap="round"/>
<path d="M471.0,111.2 L480.4,113.6 L473.0,121.4 Z" fill="#7d9ad2"/>
<path d="M471.50,24.30 L474.59,45.55 L470.12,64.76" fill="none" stroke="#f0875a" stroke-width="4.70" stroke-linejoin="round" stroke-linecap="butt"/><circle cx="470.12" cy="64.76" r="2.35" fill="#f0875a"/><circle cx="468.48" cy="43.40" r="2.21" fill="#f0875a"/><path d="M468.48,43.40 L465.30,26.82" fill="none" stroke="#f0875a" stroke-width="4.42" stroke-linecap="butt"/><path d="M497.80,32.20 L481.01,47.05 L476.55,66.26" fill="none" stroke="#f0875a" stroke-width="4.70" stroke-linejoin="round" stroke-linecap="butt"/><circle cx="476.55" cy="66.26" r="2.35" fill="#f0875a"/><circle cx="487.07" cy="49.35" r="2.21" fill="#f0875a"/><path d="M487.07,49.35 L500.93,38.15" fill="none" stroke="#f0875a" stroke-width="4.42" stroke-linecap="butt"/>
<g transform="translate(456.2,21.6) rotate(28.5) scale(-1.000,1.000)"><path d="M4.0,17.4 L11.0,10.4 L14.0,20.8 Z" fill="#8d3b97"/><path d="M-1.50,-17.10 C0.58,-17.15 2.92,-16.65 4.50,-15.80 C6.08,-14.95 7.30,-13.38 8.00,-12.00 C8.70,-10.62 8.87,-9.08 8.70,-7.50 C8.53,-5.92 7.33,-4.00 7.00,-2.50 C6.67,-1.00 6.28,0.08 6.70,1.50 C7.12,2.92 8.78,4.50 9.50,6.00 C10.22,7.50 11.00,9.00 11.00,10.50 C11.00,12.00 10.58,13.85 9.50,15.00 C8.42,16.15 6.33,17.15 4.50,17.40 C2.67,17.65 0.28,17.15 -1.50,16.50 C-3.28,15.85 -5.17,14.67 -6.20,13.50 C-7.23,12.33 -7.73,10.92 -7.70,9.50 C-7.67,8.08 -6.48,6.38 -6.00,5.00 C-5.52,3.62 -4.55,2.53 -4.80,1.20 C-5.05,-0.13 -6.47,-1.55 -7.50,-3.00 C-8.53,-4.45 -10.37,-6.00 -11.00,-7.50 C-11.63,-9.00 -11.80,-10.67 -11.30,-12.00 C-10.80,-13.33 -9.63,-14.65 -8.00,-15.50 C-6.37,-16.35 -3.58,-17.05 -1.50,-17.10Z" fill="#52b996" stroke="#3c9f7e" stroke-width="0.6"/><rect x="-14.3" y="-7.7" width="5.4" height="5.4" transform="rotate(-38 -11.6 -5.0)" fill="#f07f4e"/></g>
<g transform="translate(511.1,37.6) rotate(-0.4) scale(1.000,1.000)"><path d="M4.0,17.4 L11.0,10.4 L14.0,20.8 Z" fill="#8d3b97"/><path d="M-1.50,-17.10 C0.58,-17.15 2.92,-16.65 4.50,-15.80 C6.08,-14.95 7.30,-13.38 8.00,-12.00 C8.70,-10.62 8.87,-9.08 8.70,-7.50 C8.53,-5.92 7.33,-4.00 7.00,-2.50 C6.67,-1.00 6.28,0.08 6.70,1.50 C7.12,2.92 8.78,4.50 9.50,6.00 C10.22,7.50 11.00,9.00 11.00,10.50 C11.00,12.00 10.58,13.85 9.50,15.00 C8.42,16.15 6.33,17.15 4.50,17.40 C2.67,17.65 0.28,17.15 -1.50,16.50 C-3.28,15.85 -5.17,14.67 -6.20,13.50 C-7.23,12.33 -7.73,10.92 -7.70,9.50 C-7.67,8.08 -6.48,6.38 -6.00,5.00 C-5.52,3.62 -4.55,2.53 -4.80,1.20 C-5.05,-0.13 -6.47,-1.55 -7.50,-3.00 C-8.53,-4.45 -10.37,-6.00 -11.00,-7.50 C-11.63,-9.00 -11.80,-10.67 -11.30,-12.00 C-10.80,-13.33 -9.63,-14.65 -8.00,-15.50 C-6.37,-16.35 -3.58,-17.05 -1.50,-17.10Z" fill="#52b996" stroke="#3c9f7e" stroke-width="0.6"/><rect x="-14.3" y="-7.7" width="5.4" height="5.4" transform="rotate(-38 -11.6 -5.0)" fill="#f07f4e"/></g>
<text x="494.6" y="76.4" font-size="13" font-weight="bold" text-anchor="start" >ATT</text>
<path d="M451.70,214.60 C452.32,215.58 455.07,218.20 455.40,220.50 C455.73,222.80 455.42,226.10 453.70,228.40 C451.98,230.70 447.30,232.10 445.10,234.30 C442.90,236.50 440.83,239.07 440.50,241.60 C440.17,244.13 441.78,247.08 443.10,249.50 C444.42,251.92 447.52,253.70 448.40,256.10 C449.28,258.50 448.40,262.60 448.40,263.90" fill="none" stroke="#161616" stroke-width="1.6" stroke-linecap="round"/><path d="M442.2,262.6 L450.6,267.5 L441.2,273.4 Z" fill="#7d9ad2"/><path d="M507.60,233.70 C507.23,234.57 505.52,236.48 505.40,238.90 C505.28,241.32 506.10,245.33 506.90,248.20 C507.70,251.07 509.87,253.03 510.20,256.10 C510.53,259.17 508.78,263.43 508.90,266.60 C509.02,269.77 510.57,273.68 510.90,275.10" fill="none" stroke="#161616" stroke-width="1.6" stroke-linecap="round"/><path d="M515.9,285.7 L505.04,286.65 A10.9,10.9 0 1 1 511.47,295.66 Z" fill="#8193c9" stroke="#6578ad" stroke-width="0.7" stroke-linejoin="round"/><path d="M441.20,175.50 L444.79,197.45 L440.22,216.96" fill="none" stroke="#f0875a" stroke-width="4.70" stroke-linejoin="round" stroke-linecap="butt"/><circle cx="440.22" cy="216.96" r="2.35" fill="#f0875a"/><circle cx="438.64" cy="195.40" r="2.21" fill="#f0875a"/><path d="M438.64,195.40 L435.02,178.13" fill="none" stroke="#f0875a" stroke-width="4.42" stroke-linecap="butt"/><path d="M470.10,183.40 L451.21,198.95 L446.65,218.46" fill="none" stroke="#f0875a" stroke-width="4.70" stroke-linejoin="round" stroke-linecap="butt"/><circle cx="446.65" cy="218.46" r="2.35" fill="#f0875a"/><circle cx="457.18" cy="201.46" r="2.21" fill="#f0875a"/><path d="M457.18,201.46 L473.07,189.52" fill="none" stroke="#f0875a" stroke-width="4.42" stroke-linecap="butt"/><g transform="translate(481.8,188.9) rotate(1.8) scale(1.000,1.000)"><path d="M-1.50,-17.10 C0.58,-17.15 2.92,-16.65 4.50,-15.80 C6.08,-14.95 7.30,-13.38 8.00,-12.00 C8.70,-10.62 8.87,-9.08 8.70,-7.50 C8.53,-5.92 7.33,-4.00 7.00,-2.50 C6.67,-1.00 6.28,0.08 6.70,1.50 C7.12,2.92 8.78,4.50 9.50,6.00 C10.22,7.50 11.00,9.00 11.00,10.50 C11.00,12.00 10.58,13.85 9.50,15.00 C8.42,16.15 6.33,17.15 4.50,17.40 C2.67,17.65 0.28,17.15 -1.50,16.50 C-3.28,15.85 -5.17,14.67 -6.20,13.50 C-7.23,12.33 -7.73,10.92 -7.70,9.50 C-7.67,8.08 -6.48,6.38 -6.00,5.00 C-5.52,3.62 -4.55,2.53 -4.80,1.20 C-5.05,-0.13 -6.47,-1.55 -7.50,-3.00 C-8.53,-4.45 -10.37,-6.00 -11.00,-7.50 C-11.63,-9.00 -11.80,-10.67 -11.30,-12.00 C-10.80,-13.33 -9.63,-14.65 -8.00,-15.50 C-6.37,-16.35 -3.58,-17.05 -1.50,-17.10Z" fill="#52b996" stroke="#3c9f7e" stroke-width="0.6"/><rect x="-14.3" y="-7.7" width="5.4" height="5.4" transform="rotate(-38 -11.6 -5.0)" fill="#f07f4e"/></g><path d="M490.95,203.77 L508.02,219.17 L513.00,237.50" fill="none" stroke="#9b4a9f" stroke-width="4.70" stroke-linejoin="round" stroke-linecap="round"/><circle cx="513.00" cy="237.50" r="2.35" fill="#9b4a9f"/><path d="M501.84,221.31 L486.05,208.31" fill="none" stroke="#9b4a9f" stroke-width="4.42" stroke-linecap="round"/><path d="M517.54,196.92 L514.38,217.43 L519.37,235.77" fill="none" stroke="#9b4a9f" stroke-width="4.70" stroke-linejoin="round" stroke-linecap="round"/><circle cx="519.37" cy="235.77" r="2.35" fill="#9b4a9f"/><path d="M520.53,215.19 L524.11,197.33" fill="none" stroke="#9b4a9f" stroke-width="4.42" stroke-linecap="round"/>
<text x="465.4" y="237.4" font-size="13" font-weight="bold" text-anchor="start" >ABTi</text>
<circle cx="675.4" cy="246.4" r="36.5" fill="url(#glow)"/><path d="M652.20,215.00 C652.47,215.70 654.08,217.75 653.80,219.20 C653.52,220.65 651.80,222.30 650.50,223.70 C649.20,225.10 646.85,226.20 646.00,227.60 C645.15,229.00 644.65,230.82 645.40,232.10 C646.15,233.38 648.37,234.35 650.50,235.30 C652.63,236.25 655.95,236.88 658.20,237.80 C660.45,238.72 663.03,240.30 664.00,240.80" fill="none" stroke="#161616" stroke-width="1.6" stroke-linecap="round"/><path d="M707.60,233.10 C706.63,233.18 703.52,232.92 701.80,233.60 C700.08,234.28 698.37,235.65 697.30,237.20 C696.23,238.75 696.37,241.52 695.40,242.90 C694.43,244.28 693.23,245.38 691.50,245.50 C689.77,245.62 686.08,243.92 685.00,243.60" fill="none" stroke="#161616" stroke-width="1.6" stroke-linecap="round"/><circle cx="674.2" cy="246.2" r="11.2" fill="#8a92cb" stroke="#6c73b0" stroke-width="1.0"/><path d="M665.18,243.29 L673.40,245.80 L669.48,239.52" fill="#7a82bd" stroke="#545a98" stroke-width="0.8" stroke-linejoin="round"/><path d="M641.20,175.50 L644.79,197.45 L640.22,216.96" fill="none" stroke="#f0875a" stroke-width="4.70" stroke-linejoin="round" stroke-linecap="butt"/><circle cx="640.22" cy="216.96" r="2.35" fill="#f0875a"/><circle cx="638.64" cy="195.40" r="2.21" fill="#f0875a"/><path d="M638.64,195.40 L635.02,178.13" fill="none" stroke="#f0875a" stroke-width="4.42" stroke-linecap="butt"/><path d="M670.10,183.40 L651.21,198.95 L646.65,218.46" fill="none" stroke="#f0875a" stroke-width="4.70" stroke-linejoin="round" stroke-linecap="butt"/><circle cx="646.65" cy="218.46" r="2.35" fill="#f0875a"/><circle cx="657.18" cy="201.46" r="2.21" fill="#f0875a"/><path d="M657.18,201.46 L673.07,189.52" fill="none" stroke="#f0875a" stroke-width="4.42" stroke-linecap="butt"/><g transform="translate(681.8,188.9) rotate(1.8) scale(1.000,1.000)"><path d="M-1.50,-17.10 C0.58,-17.15 2.92,-16.65 4.50,-15.80 C6.08,-14.95 7.30,-13.38 8.00,-12.00 C8.70,-10.62 8.87,-9.08 8.70,-7.50 C8.53,-5.92 7.33,-4.00 7.00,-2.50 C6.67,-1.00 6.28,0.08 6.70,1.50 C7.12,2.92 8.78,4.50 9.50,6.00 C10.22,7.50 11.00,9.00 11.00,10.50 C11.00,12.00 10.58,13.85 9.50,15.00 C8.42,16.15 6.33,17.15 4.50,17.40 C2.67,17.65 0.28,17.15 -1.50,16.50 C-3.28,15.85 -5.17,14.67 -6.20,13.50 C-7.23,12.33 -7.73,10.92 -7.70,9.50 C-7.67,8.08 -6.48,6.38 -6.00,5.00 C-5.52,3.62 -4.55,2.53 -4.80,1.20 C-5.05,-0.13 -6.47,-1.55 -7.50,-3.00 C-8.53,-4.45 -10.37,-6.00 -11.00,-7.50 C-11.63,-9.00 -11.80,-10.67 -11.30,-12.00 C-10.80,-13.33 -9.63,-14.65 -8.00,-15.50 C-6.37,-16.35 -3.58,-17.05 -1.50,-17.10Z" fill="#52b996" stroke="#3c9f7e" stroke-width="0.6"/><rect x="-14.3" y="-7.7" width="5.4" height="5.4" transform="rotate(-38 -11.6 -5.0)" fill="#f07f4e"/></g><path d="M690.95,203.77 L708.02,219.17 L713.00,237.50" fill="none" stroke="#9b4a9f" stroke-width="4.70" stroke-linejoin="round" stroke-linecap="round"/><circle cx="713.00" cy="237.50" r="2.35" fill="#9b4a9f"/><path d="M701.84,221.31 L686.05,208.31" fill="none" stroke="#9b4a9f" stroke-width="4.42" stroke-linecap="round"/><path d="M717.54,196.92 L714.38,217.43 L719.37,235.77" fill="none" stroke="#9b4a9f" stroke-width="4.70" stroke-linejoin="round" stroke-linecap="round"/><circle cx="719.37" cy="235.77" r="2.35" fill="#9b4a9f"/><path d="M720.53,215.19 L724.11,197.33" fill="none" stroke="#9b4a9f" stroke-width="4.42" stroke-linecap="round"/>
<text x="673.6" y="288.2" font-size="13" font-weight="bold" text-anchor="middle" >ABTa</text>
<line x1="556.00" y1="226.00" x2="599.58" y2="226.00" stroke="#161616" stroke-width="3.1"/><path d="M605.60,226.00 L597.00,230.70 L598.89,226.00 L597.00,221.30 Z" fill="#161616"/>
<line x1="605.60" y1="240.00" x2="562.22" y2="240.00" stroke="#161616" stroke-width="3.1"/><path d="M556.20,240.00 L564.80,235.30 L562.91,240.00 L564.80,244.70 Z" fill="#161616"/>
<text y="257.4" font-size="14.3" font-weight="bold" stroke="#111" stroke-width="0.25"><tspan x="568.20">K</tspan><tspan font-size="8.5" dy="5.1" letter-spacing="0.25">D,N</tspan></text>
<line x1="564.4" x2="595.4" y1="266.4" y2="266.4" stroke="#161616" stroke-width="1.3"/>
<text x="580.8" y="281.4" font-size="12.4" font-weight="bold" text-anchor="middle" >EM</text>
<path d="M484.80,392.80 C484.72,394.52 483.93,399.48 484.30,403.10 C484.67,406.72 486.73,410.70 487.00,414.50 C487.27,418.30 485.67,422.55 485.90,425.90 C486.13,429.25 487.98,433.15 488.40,434.60" fill="none" stroke="#161616" stroke-width="1.6" stroke-linecap="round"/>
<path d="M493.9,444.2 L482.92,444.78 A11,11 0 1 1 489.43,454.25 Z" fill="#8193c9" stroke="#6578ad" stroke-width="0.7" stroke-linejoin="round"/>
<g transform="translate(458.3,346.7) rotate(1.7) scale(1.000,1.000)"><rect x="-14.3" y="-7.7" width="5.4" height="5.4" transform="rotate(-38 -11.6 -5.0)" fill="#f07f4e"/><path d="M-1.50,-17.10 C0.58,-17.15 2.92,-16.65 4.50,-15.80 C6.08,-14.95 7.30,-13.38 8.00,-12.00 C8.70,-10.62 8.87,-9.08 8.70,-7.50 C8.53,-5.92 7.33,-4.00 7.00,-2.50 C6.67,-1.00 6.28,0.08 6.70,1.50 C7.12,2.92 8.78,4.50 9.50,6.00 C10.22,7.50 11.00,9.00 11.00,10.50 C11.00,12.00 10.58,13.85 9.50,15.00 C8.42,16.15 6.33,17.15 4.50,17.40 C2.67,17.65 0.28,17.15 -1.50,16.50 C-3.28,15.85 -5.17,14.67 -6.20,13.50 C-7.23,12.33 -7.73,10.92 -7.70,9.50 C-7.67,8.08 -6.48,6.38 -6.00,5.00 C-5.52,3.62 -4.55,2.53 -4.80,1.20 C-5.05,-0.13 -6.47,-1.55 -7.50,-3.00 C-8.53,-4.45 -10.37,-6.00 -11.00,-7.50 C-11.63,-9.00 -11.80,-10.67 -11.30,-12.00 C-10.80,-13.33 -9.63,-14.65 -8.00,-15.50 C-6.37,-16.35 -3.58,-17.05 -1.50,-17.10Z" fill="#52b996" stroke="#3c9f7e" stroke-width="0.6"/></g>
<g transform="translate(498.4,335.2) rotate(-35.3) scale(-1.000,1.000)"><rect x="-14.3" y="-7.7" width="5.4" height="5.4" transform="rotate(-38 -11.6 -5.0)" fill="#f07f4e"/><path d="M-1.50,-17.10 C0.58,-17.15 2.92,-16.65 4.50,-15.80 C6.08,-14.95 7.30,-13.38 8.00,-12.00 C8.70,-10.62 8.87,-9.08 8.70,-7.50 C8.53,-5.92 7.33,-4.00 7.00,-2.50 C6.67,-1.00 6.28,0.08 6.70,1.50 C7.12,2.92 8.78,4.50 9.50,6.00 C10.22,7.50 11.00,9.00 11.00,10.50 C11.00,12.00 10.58,13.85 9.50,15.00 C8.42,16.15 6.33,17.15 4.50,17.40 C2.67,17.65 0.28,17.15 -1.50,16.50 C-3.28,15.85 -5.17,14.67 -6.20,13.50 C-7.23,12.33 -7.73,10.92 -7.70,9.50 C-7.67,8.08 -6.48,6.38 -6.00,5.00 C-5.52,3.62 -4.55,2.53 -4.80,1.20 C-5.05,-0.13 -6.47,-1.55 -7.50,-3.00 C-8.53,-4.45 -10.37,-6.00 -11.00,-7.50 C-11.63,-9.00 -11.80,-10.67 -11.30,-12.00 C-10.80,-13.33 -9.63,-14.65 -8.00,-15.50 C-6.37,-16.35 -3.58,-17.05 -1.50,-17.10Z" fill="#52b996" stroke="#3c9f7e" stroke-width="0.6"/></g>
<path d="M468.55,361.37 L484.51,375.63 L489.61,395.16" fill="none" stroke="#9b4a9f" stroke-width="4.70" stroke-linejoin="round" stroke-linecap="round"/><circle cx="489.61" cy="395.16" r="2.35" fill="#9b4a9f"/><path d="M478.34,377.81 L463.56,365.74" fill="none" stroke="#9b4a9f" stroke-width="4.42" stroke-linecap="round"/><path d="M494.83,354.50 L490.89,373.97 L496.00,393.49" fill="none" stroke="#9b4a9f" stroke-width="4.70" stroke-linejoin="round" stroke-linecap="round"/><circle cx="496.00" cy="393.49" r="2.35" fill="#9b4a9f"/><path d="M497.14,372.02 L501.39,355.01" fill="none" stroke="#9b4a9f" stroke-width="4.42" stroke-linecap="round"/>
<text x="511.6" y="381.1" font-size="13" font-weight="bold" text-anchor="start" >BTT</text>
</g>
</svg>
</body></html>
